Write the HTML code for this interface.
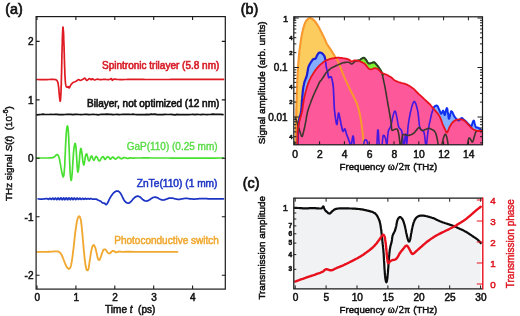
<!DOCTYPE html>
<html><head><meta charset="utf-8"><title>THz emitters</title>
<style>html,body{margin:0;padding:0;background:#fff;overflow:hidden}svg{display:block}text{font-family:'Liberation Sans',Arial,sans-serif}</style></head>
<body><svg width="520" height="316" viewBox="0 0 520 316">
<rect width="520" height="316" fill="#fff"/>
<g fill="none" stroke-linejoin="round" stroke-linecap="round">
<path d="M37.0,79.5 L38.3,79.5 L39.6,79.6 L40.9,79.6 L42.1,79.6 L43.4,79.6 L44.6,79.6 L45.9,79.6 L47.1,79.6 L48.4,79.5 L49.6,79.5 L50.8,79.4 L51.8,79.4 L52.8,79.4 L53.7,79.4 L54.5,79.5 L55.3,79.6 L55.9,79.7 L56.5,80.1 L57.0,80.6 L57.4,81.2 L57.7,82.0 L58.0,83.0 L58.2,84.1 L58.4,85.4 L58.6,86.7 L58.7,88.1 L58.9,89.6 L59.0,91.2 L59.1,92.8 L59.3,94.4 L59.4,95.9 L59.5,97.2 L59.7,98.4 L59.8,99.6 L60.0,100.5 L60.1,101.1 L60.2,101.2 L60.4,100.7 L60.5,99.8 L60.6,98.5 L60.7,97.1 L60.8,95.6 L60.9,94.0 L61.0,92.2 L61.1,90.3 L61.1,88.2 L61.2,86.1 L61.3,83.9 L61.3,81.7 L61.4,79.4 L61.4,77.1 L61.5,74.8 L61.6,72.5 L61.6,70.2 L61.7,67.8 L61.7,65.3 L61.8,62.8 L61.8,60.3 L61.9,57.8 L61.9,55.3 L62.0,52.7 L62.1,50.2 L62.1,47.8 L62.2,45.3 L62.3,42.8 L62.3,40.2 L62.4,37.6 L62.5,35.1 L62.6,32.8 L62.7,30.8 L62.8,29.1 L62.9,27.8 L62.9,27.1 L63.0,27.1 L63.1,27.6 L63.2,28.7 L63.3,30.3 L63.5,32.1 L63.6,34.2 L63.7,36.4 L63.7,38.7 L63.8,40.9 L63.9,43.1 L64.0,45.4 L64.1,47.7 L64.1,50.1 L64.2,52.4 L64.3,54.8 L64.3,57.2 L64.4,59.5 L64.5,61.8 L64.5,64.0 L64.6,66.1 L64.7,68.2 L64.8,70.2 L64.8,72.2 L64.9,74.1 L65.0,76.0 L65.1,77.8 L65.2,79.4 L65.3,80.9 L65.4,82.2 L65.5,83.4 L65.7,84.4 L65.9,85.4 L66.1,86.1 L66.3,86.7 L66.7,87.1 L67.1,87.3 L67.6,87.1 L68.0,86.7 L68.3,86.7 L68.6,87.3 L68.9,87.9 L69.2,87.9 L69.5,87.5 L69.9,86.8 L70.2,86.1 L70.6,85.4 L71.0,84.7 L71.4,84.1 L71.9,83.6 L72.4,83.0 L73.0,82.6 L73.6,82.2 L74.2,82.0 L74.9,81.8 L75.5,81.6 L76.0,81.3 L76.5,81.0 L77.0,80.6 L77.5,80.2 L78.0,79.8 L78.5,79.6 L79.1,79.8 L79.6,80.1 L80.2,80.4 L80.7,80.3 L81.3,80.1 L81.9,79.8 L82.4,79.6 L82.9,79.3 L83.4,79.0 L83.9,78.6 L84.4,78.2 L84.8,78.1 L85.2,78.4 L85.6,79.0 L85.9,79.5 L86.3,80.1 L86.6,80.5 L87.1,80.4 L87.5,80.1 L88.0,79.6 L88.5,79.2 L89.0,78.7 L89.5,78.5 L90.0,78.7 L90.4,79.3 L90.9,79.7 L91.4,79.6 L91.8,79.1 L92.3,78.8 L92.9,79.0 L93.5,79.4 L94.1,79.9 L94.8,80.0 L95.4,79.8 L96.1,79.5 L96.9,79.2 L97.6,79.2 L98.4,79.3 L99.1,79.5 L99.9,79.6 L100.8,79.6 L101.7,79.6 L102.6,79.5 L103.5,79.4 L104.4,79.4 L105.4,79.4 L106.3,79.5 L107.2,79.6 L108.0,79.6 L108.7,79.6 L109.4,79.5 L109.9,79.3 L110.5,79.0 L110.9,78.7 L111.4,78.6 L111.7,79.2 L112.0,79.9 L112.3,80.3 L112.7,80.1 L113.1,79.6 L113.7,79.3 L114.4,79.2 L115.3,79.2 L116.3,79.3 L117.5,79.5 L118.6,79.5 L119.9,79.6 L121.4,79.6 L122.9,79.6 L124.5,79.5 L126.2,79.5 L127.9,79.4 L129.7,79.4 L131.5,79.4 L133.3,79.4 L135.2,79.4 L137.1,79.4 L139.1,79.4 L141.2,79.4 L143.2,79.4 L145.4,79.5 L147.5,79.5 L149.7,79.5 L151.9,79.5 L154.2,79.5 L156.5,79.5 L158.9,79.5 L161.3,79.5 L163.7,79.5 L166.2,79.5 L168.7,79.5 L171.3,79.4 L173.9,79.4 L176.5,79.4 L179.1,79.4 L181.8,79.4 L184.6,79.4 L187.3,79.4 L190.1,79.4 L193.0,79.4 L195.9,79.3 L198.8,79.3 L201.7,79.3 L204.7,79.3 L207.8,79.3 L210.8,79.3 L214.0,79.3 L217.1,79.4 L220.3,79.4 L223.5,79.4" stroke="#e01a22" stroke-width="1.7"/>
<path d="M37.0,114.8 L39.0,114.6 L41.0,114.5 L43.0,114.2 L45.0,114.5 L47.0,114.5 L49.0,114.5 L51.0,114.4 L53.0,114.5 L55.0,114.4 L57.0,114.3 L59.0,114.6 L61.0,114.6 L63.0,114.7 L65.0,114.5 L67.0,114.4 L69.0,114.4 L71.0,114.3 L73.0,114.6 L75.0,114.3 L77.0,114.3 L79.0,114.5 L81.0,114.7 L83.0,114.5 L85.0,114.4 L87.0,114.4 L89.0,114.6 L91.0,114.5 L93.0,114.4 L95.0,114.5 L97.0,114.6 L99.0,114.8 L101.0,114.3 L103.0,114.4 L105.0,114.4 L107.0,114.2 L109.0,114.4 L111.0,114.4 L113.0,114.7 L115.0,114.5 L117.0,114.3 L119.0,114.6 L121.0,114.5 L123.0,114.3 L125.0,114.4 L127.0,114.4 L129.0,114.4 L131.0,114.5 L133.0,114.2 L135.0,114.5 L137.0,114.6 L139.0,114.6 L141.0,114.7 L143.0,114.7 L145.0,114.7 L147.0,114.3 L149.0,114.6 L151.0,114.2 L153.0,114.4 L155.0,114.2 L157.0,114.6 L159.0,114.7 L161.0,114.5 L163.0,114.7 L165.0,114.4 L167.0,114.5 L169.0,114.5 L171.0,114.4 L173.0,114.6 L175.0,114.8 L177.0,114.4 L179.0,114.6 L181.0,114.5 L183.0,114.7 L185.0,114.6 L187.0,114.6 L189.0,114.6 L191.0,114.5 L193.0,114.3 L195.0,114.7 L197.0,114.3 L199.0,114.5 L201.0,114.6 L203.0,114.4 L205.0,114.5 L207.0,114.7 L209.0,114.5 L211.0,114.4 L213.0,114.1 L215.0,114.4 L217.0,114.4 L219.0,114.4 L221.0,114.4 L223.0,114.6" stroke="#111" stroke-width="1.7"/>
<path d="M37.0,158.0 L38.5,158.0 L39.9,158.0 L41.2,158.0 L42.5,158.0 L43.6,158.0 L44.8,158.0 L45.8,158.0 L46.8,158.0 L47.6,158.0 L48.4,158.0 L49.2,157.9 L50.0,157.9 L50.8,157.9 L51.5,157.8 L52.2,157.7 L52.9,157.6 L53.5,157.4 L54.0,157.1 L54.5,156.7 L55.1,156.3 L55.6,155.7 L56.1,155.2 L56.6,154.7 L57.1,154.6 L57.6,154.8 L58.0,155.3 L58.4,155.9 L58.7,156.6 L59.0,157.4 L59.3,158.4 L59.5,159.5 L59.7,160.6 L60.0,161.8 L60.2,162.9 L60.4,164.1 L60.6,165.3 L60.8,166.6 L61.0,167.9 L61.3,169.2 L61.5,170.4 L61.7,171.7 L62.0,173.0 L62.3,174.3 L62.6,175.5 L62.9,176.4 L63.1,176.8 L63.3,176.8 L63.5,176.3 L63.8,175.4 L64.0,174.1 L64.1,172.7 L64.3,171.2 L64.4,169.6 L64.5,168.0 L64.7,166.3 L64.8,164.5 L64.8,162.6 L64.9,160.7 L65.0,158.8 L65.1,156.8 L65.2,154.8 L65.3,152.9 L65.4,151.0 L65.4,149.1 L65.5,147.2 L65.6,145.3 L65.7,143.5 L65.8,141.6 L65.9,139.8 L66.0,138.0 L66.1,136.3 L66.2,134.6 L66.3,133.1 L66.4,131.6 L66.6,130.1 L66.7,128.8 L66.9,127.5 L67.1,126.6 L67.3,126.0 L67.5,125.9 L67.6,126.3 L67.8,127.2 L68.0,128.3 L68.1,129.7 L68.3,131.2 L68.4,132.8 L68.5,134.4 L68.6,136.1 L68.7,137.8 L68.8,139.7 L68.8,141.6 L68.9,143.5 L69.0,145.5 L69.1,147.4 L69.2,149.4 L69.2,151.3 L69.3,153.2 L69.4,155.2 L69.5,157.1 L69.5,159.1 L69.6,161.0 L69.7,163.0 L69.8,164.9 L69.9,166.8 L69.9,168.6 L70.0,170.3 L70.1,172.0 L70.2,173.6 L70.4,175.2 L70.5,176.7 L70.7,178.1 L70.8,179.2 L71.0,180.0 L71.2,180.4 L71.3,180.2 L71.5,179.6 L71.6,178.6 L71.8,177.3 L71.9,175.9 L72.1,174.4 L72.2,173.0 L72.3,171.5 L72.4,170.0 L72.5,168.4 L72.6,166.8 L72.7,165.2 L72.8,163.6 L72.9,162.0 L73.0,160.4 L73.1,158.9 L73.2,157.4 L73.3,155.9 L73.4,154.4 L73.5,152.9 L73.6,151.5 L73.8,150.1 L73.9,148.8 L74.1,147.5 L74.3,146.3 L74.5,145.1 L74.7,144.2 L74.9,143.5 L75.1,143.3 L75.3,143.6 L75.5,144.3 L75.7,145.3 L75.8,146.5 L76.0,147.8 L76.1,149.1 L76.2,150.5 L76.3,152.0 L76.4,153.5 L76.5,155.1 L76.6,156.8 L76.7,158.4 L76.8,160.1 L76.9,161.7 L77.0,163.4 L77.1,165.2 L77.2,166.9 L77.4,168.6 L77.5,170.0 L77.6,171.1 L77.8,171.8 L77.9,172.0 L78.1,171.6 L78.3,170.9 L78.4,169.8 L78.6,168.5 L78.8,167.3 L78.9,166.0 L79.0,164.6 L79.1,163.2 L79.3,161.7 L79.4,160.2 L79.5,158.7 L79.6,157.2 L79.7,155.7 L79.9,154.3 L80.0,152.9 L80.2,151.5 L80.4,150.2 L80.6,149.2 L80.8,148.6 L80.9,148.4 L81.1,148.8 L81.3,149.6 L81.5,150.7 L81.7,151.9 L81.9,153.0 L82.1,154.2 L82.2,155.5 L82.3,156.7 L82.5,158.0 L82.6,159.2 L82.7,160.4 L82.9,161.5 L83.1,162.6 L83.3,163.6 L83.5,164.4 L83.7,164.9 L83.9,164.9 L84.1,164.5 L84.3,163.6 L84.4,162.5 L84.6,161.4 L84.8,160.4 L84.9,159.4 L85.1,158.3 L85.2,157.3 L85.4,156.4 L85.6,155.6 L85.8,154.9 L86.1,154.3 L86.4,153.9 L86.7,154.0 L87.0,154.5 L87.2,155.2 L87.4,155.9 L87.6,156.7 L87.8,157.6 L87.9,158.4 L88.1,159.2 L88.3,159.8 L88.6,160.4 L88.8,160.8 L89.1,160.9 L89.4,160.5 L89.7,159.9 L90.0,159.3 L90.2,158.6 L90.4,157.9 L90.6,157.3 L90.8,156.8 L91.1,156.3 L91.4,156.0 L91.7,156.1 L92.0,156.5 L92.3,157.0 L92.5,157.6 L92.7,158.2 L92.9,158.8 L93.2,159.4 L93.5,159.9 L93.8,160.2 L94.1,160.1 L94.4,159.7 L94.6,159.1 L94.9,158.6 L95.1,158.0 L95.3,157.5 L95.6,157.0 L95.9,156.6 L96.2,156.4 L96.5,156.5 L96.8,157.0 L97.2,157.5 L97.5,158.0 L97.8,158.7 L98.0,159.3 L98.3,159.9 L98.7,160.4 L99.1,160.8 L99.4,160.9 L99.8,160.7 L100.1,160.2 L100.5,159.6 L100.8,159.0 L101.2,158.4 L101.5,157.9 L101.9,157.4 L102.3,157.0 L102.7,156.8 L103.1,156.7 L103.5,157.0 L103.8,157.5 L104.1,158.0 L104.4,158.7 L104.7,159.3 L105.0,159.5 L105.4,159.3 L105.7,158.8 L106.2,158.2 L106.6,157.7 L107.0,157.2 L107.5,156.8 L107.9,156.7 L108.3,156.9 L108.7,157.2 L109.1,157.7 L109.5,158.3 L109.9,158.9 L110.2,159.2 L110.6,159.1 L111.0,158.7 L111.5,158.2 L111.9,157.7 L112.3,157.3 L112.7,157.0 L113.1,157.1 L113.5,157.4 L113.9,157.9 L114.4,158.4 L114.8,158.8 L115.2,159.0 L115.7,159.1 L116.1,158.8 L116.6,158.4 L117.0,158.0 L117.5,157.6 L118.0,157.3 L118.5,157.2 L119.0,157.3 L119.4,157.6 L119.9,157.9 L120.4,158.3 L120.9,158.6 L121.4,158.8 L121.8,158.7 L122.3,158.5 L122.8,158.1 L123.3,157.9 L123.8,157.6 L124.3,157.5 L124.8,157.5 L125.3,157.7 L125.7,157.9 L126.3,158.1 L126.9,158.3 L127.5,158.4 L128.1,158.4 L128.6,158.3 L129.2,158.1 L129.8,157.9 L130.4,157.9 L131.1,157.9 L131.8,158.0 L132.6,158.1 L133.4,158.1 L134.1,158.1 L134.8,158.1 L135.7,158.0 L136.6,158.0 L137.8,158.0 L139.2,158.0 L140.7,158.0 L142.5,157.9 L144.4,157.9 L146.4,157.9 L148.5,157.9 L150.8,158.0 L153.1,158.0 L155.5,158.0 L157.9,158.0 L160.4,158.0 L162.9,158.0 L165.5,158.0 L168.2,158.0 L170.9,158.1 L173.8,158.1 L176.8,158.1 L179.9,158.1 L183.0,158.1 L186.3,158.1 L189.6,158.1 L193.0,158.1 L196.5,158.1 L200.1,158.1 L203.8,158.1 L207.6,158.1 L211.4,158.1 L215.4,158.1 L219.4,158.0 L223.5,158.0" stroke="#48e030" stroke-width="1.7"/>
<path d="M38.2,198.9 L39.1,199.0 L39.9,199.1 L40.7,199.1 L41.5,199.1 L42.3,199.0 L43.1,199.0 L43.8,198.9 L44.5,198.9 L45.1,198.8 L45.8,198.7 L46.4,198.7 L47.0,198.7 L47.5,198.8 L47.9,199.0 L48.2,199.2 L48.5,199.3 L48.8,199.2 L49.1,198.9 L49.5,198.5 L49.8,198.3 L50.2,198.3 L50.5,198.7 L50.8,199.1 L51.2,199.4 L51.5,199.3 L51.8,199.0 L52.2,198.5 L52.5,198.2 L52.8,198.2 L53.2,198.5 L53.5,199.0 L53.8,199.4 L54.1,199.5 L54.4,199.2 L54.8,198.7 L55.1,198.3 L55.4,198.1 L55.7,198.3 L56.0,198.7 L56.3,199.2 L56.7,199.6 L57.0,199.5 L57.3,199.1 L57.6,198.5 L57.9,198.1 L58.2,198.0 L58.5,198.3 L58.8,198.8 L59.1,199.4 L59.4,199.6 L59.7,199.5 L60.0,199.1 L60.3,198.5 L60.6,198.0 L60.9,197.9 L61.2,198.2 L61.5,198.8 L61.8,199.3 L62.1,199.7 L62.4,199.6 L62.7,199.2 L63.0,198.6 L63.3,198.1 L63.6,197.9 L63.9,198.1 L64.2,198.6 L64.4,199.2 L64.7,199.7 L65.0,199.7 L65.3,199.3 L65.6,198.8 L65.9,198.2 L66.2,197.9 L66.5,198.0 L66.8,198.4 L67.1,199.0 L67.4,199.6 L67.7,199.7 L68.0,199.5 L68.2,199.0 L68.5,198.4 L68.8,197.9 L69.1,197.9 L69.4,198.3 L69.7,198.9 L70.0,199.4 L70.3,199.7 L70.6,199.6 L70.9,199.1 L71.2,198.5 L71.5,198.0 L71.8,197.9 L72.1,198.3 L72.4,198.8 L72.7,199.3 L73.0,199.6 L73.3,199.5 L73.6,199.1 L73.9,198.5 L74.2,198.1 L74.5,198.0 L74.8,198.3 L75.2,198.8 L75.5,199.3 L75.8,199.6 L76.1,199.4 L76.4,198.9 L76.7,198.5 L77.0,198.1 L77.4,198.2 L77.7,198.5 L78.0,199.0 L78.3,199.4 L78.6,199.4 L79.0,199.1 L79.3,198.7 L79.6,198.3 L80.0,198.2 L80.3,198.4 L80.6,198.8 L80.9,199.2 L81.3,199.4 L81.6,199.2 L82.0,198.8 L82.3,198.4 L82.6,198.3 L83.0,198.5 L83.3,198.8 L83.7,199.2 L84.0,199.3 L84.4,199.1 L84.7,198.8 L85.1,198.5 L85.4,198.4 L85.8,198.6 L86.1,198.9 L86.5,199.1 L86.8,199.2 L87.2,199.0 L87.5,198.7 L87.9,198.5 L88.3,198.5 L88.6,198.7 L89.0,199.0 L89.3,199.1 L89.7,199.1 L90.1,198.8 L90.4,198.6 L90.8,198.5 L91.1,198.6 L91.5,198.8 L91.9,199.0 L92.3,199.1 L92.8,199.1 L93.3,199.1 L93.9,199.0 L94.5,199.0 L95.1,199.0 L95.7,199.1 L96.2,199.2 L96.8,199.4 L97.3,199.7 L97.9,199.9 L98.4,200.2 L99.0,200.5 L99.5,200.7 L100.1,201.0 L100.6,201.3 L101.1,201.6 L101.5,202.0 L101.9,202.4 L102.3,202.7 L102.7,202.9 L103.2,203.0 L103.6,203.1 L104.0,203.1 L104.4,203.2 L104.7,203.3 L105.1,203.7 L105.4,204.2 L105.8,204.5 L106.1,204.6 L106.4,204.5 L106.8,204.1 L107.1,203.7 L107.4,203.1 L107.8,202.6 L108.1,201.9 L108.4,201.3 L108.8,200.5 L109.1,199.8 L109.4,199.1 L109.8,198.3 L110.2,197.6 L110.7,196.9 L111.1,196.1 L111.6,195.4 L112.1,194.7 L112.6,194.1 L113.0,193.5 L113.5,193.0 L114.0,192.6 L114.5,192.2 L115.0,191.8 L115.4,191.6 L115.9,191.3 L116.3,191.2 L116.7,191.1 L117.1,191.0 L117.5,191.0 L117.9,191.1 L118.3,191.2 L118.7,191.5 L119.2,191.8 L119.5,192.1 L119.9,192.5 L120.3,193.0 L120.7,193.6 L121.0,194.2 L121.4,194.8 L121.7,195.4 L122.1,196.1 L122.4,196.9 L122.8,197.6 L123.1,198.3 L123.4,199.0 L123.8,199.7 L124.2,200.3 L124.6,200.9 L125.0,201.4 L125.5,201.9 L125.9,202.3 L126.3,202.6 L126.8,202.8 L127.2,203.0 L127.7,203.1 L128.2,203.1 L128.6,203.1 L129.1,203.0 L129.5,202.7 L129.9,202.4 L130.4,202.1 L130.8,201.7 L131.2,201.3 L131.6,200.8 L132.1,200.3 L132.5,199.8 L132.9,199.3 L133.3,198.8 L133.8,198.4 L134.2,197.9 L134.7,197.5 L135.1,197.1 L135.6,196.9 L136.1,196.6 L136.5,196.4 L137.0,196.3 L137.5,196.2 L138.0,196.2 L138.5,196.3 L139.0,196.5 L139.4,196.7 L139.9,196.9 L140.4,197.2 L140.8,197.6 L141.2,198.1 L141.7,198.5 L142.1,199.0 L142.6,199.4 L143.1,199.7 L143.5,200.1 L144.0,200.4 L144.5,200.6 L145.0,200.8 L145.4,200.9 L145.9,201.0 L146.3,201.0 L146.7,201.0 L147.2,200.9 L147.7,200.8 L148.1,200.6 L148.6,200.4 L149.1,200.1 L149.6,199.8 L150.1,199.4 L150.6,199.0 L151.1,198.6 L151.7,198.3 L152.2,198.0 L152.7,197.7 L153.3,197.5 L153.8,197.4 L154.3,197.2 L154.9,197.2 L155.4,197.2 L155.9,197.3 L156.5,197.4 L157.0,197.6 L157.5,197.8 L158.1,198.1 L158.6,198.4 L159.1,198.7 L159.7,199.0 L160.2,199.3 L160.7,199.5 L161.2,199.7 L161.7,199.8 L162.3,199.9 L162.8,200.0 L163.3,200.0 L163.9,199.9 L164.4,199.8 L165.0,199.6 L165.6,199.4 L166.1,199.3 L166.7,199.0 L167.2,198.8 L167.8,198.6 L168.3,198.4 L168.9,198.2 L169.4,198.1 L169.9,198.1 L170.4,198.0 L170.9,198.0 L171.5,198.0 L172.0,198.1 L172.6,198.2 L173.2,198.3 L173.9,198.5 L174.5,198.7 L175.1,198.8 L175.7,199.0 L176.3,199.1 L176.9,199.2 L177.5,199.3 L178.2,199.4 L178.8,199.4 L179.4,199.4 L180.0,199.3 L180.6,199.2 L181.2,199.0 L181.8,198.9 L182.4,198.8 L183.1,198.7 L183.7,198.6 L184.4,198.5 L185.1,198.4 L185.7,198.4 L186.4,198.4 L187.0,198.4 L187.7,198.5 L188.3,198.6 L189.0,198.7 L189.6,198.8 L190.3,198.8 L191.0,198.9 L191.8,198.9 L192.5,199.0 L193.3,199.0 L194.0,199.0 L194.7,199.0 L195.5,199.0 L196.2,198.9 L196.9,198.9 L197.6,198.8 L198.3,198.8 L199.1,198.7 L199.9,198.7 L200.7,198.7 L201.7,198.7 L202.6,198.7 L203.6,198.7 L204.7,198.7 L205.8,198.7 L206.9,198.7 L208.0,198.8 L209.1,198.8 L210.2,198.8 L211.3,198.8 L212.5,198.8 L213.6,198.8 L214.8,198.9 L216.0,198.9 L217.2,198.9 L218.4,198.9 L219.7,198.9 L220.9,198.8 L222.2,198.8 L223.5,198.8" stroke="#1c34c4" stroke-width="1.75"/>
<path d="M37.0,251.9 L38.3,251.9 L39.6,251.9 L40.8,251.8 L42.1,251.8 L43.3,251.8 L44.5,251.8 L45.7,251.8 L47.0,251.8 L48.2,251.7 L49.4,251.7 L50.6,251.7 L51.6,251.6 L52.5,251.6 L53.3,251.5 L54.0,251.4 L54.7,251.3 L55.5,251.3 L56.3,251.3 L57.1,251.4 L57.8,251.5 L58.5,251.7 L59.2,252.0 L59.8,252.5 L60.4,253.1 L60.9,253.7 L61.4,254.5 L61.9,255.5 L62.3,256.5 L62.8,257.5 L63.2,258.5 L63.6,259.6 L64.1,260.8 L64.5,261.9 L64.9,263.0 L65.3,264.0 L65.7,265.0 L66.2,265.9 L66.6,266.7 L67.0,267.4 L67.5,268.0 L68.0,268.4 L68.4,268.8 L68.9,268.9 L69.4,268.7 L69.8,268.2 L70.3,267.6 L70.6,266.8 L70.9,265.8 L71.2,264.7 L71.4,263.4 L71.7,262.1 L71.9,260.6 L72.1,259.1 L72.4,257.6 L72.6,255.9 L72.8,254.2 L73.0,252.4 L73.2,250.6 L73.5,248.7 L73.7,246.8 L73.9,245.0 L74.1,243.1 L74.3,241.3 L74.5,239.4 L74.7,237.5 L74.9,235.6 L75.1,233.7 L75.3,231.9 L75.6,230.1 L75.8,228.4 L76.0,226.9 L76.3,225.3 L76.5,223.8 L76.7,222.4 L77.0,221.1 L77.3,219.9 L77.6,218.8 L77.9,217.9 L78.3,217.1 L78.7,216.5 L79.1,216.2 L79.5,216.3 L79.9,216.9 L80.2,217.7 L80.5,218.7 L80.8,219.8 L81.0,221.1 L81.2,222.5 L81.4,224.1 L81.6,225.8 L81.8,227.5 L81.9,229.3 L82.1,231.2 L82.3,233.0 L82.5,234.9 L82.7,236.9 L82.8,238.9 L83.0,240.9 L83.2,242.9 L83.4,245.0 L83.5,247.0 L83.7,248.9 L83.9,250.9 L84.1,252.7 L84.3,254.5 L84.4,256.3 L84.6,258.0 L84.8,259.7 L85.0,261.3 L85.2,262.8 L85.4,264.2 L85.6,265.5 L85.8,266.8 L86.1,268.0 L86.3,269.0 L86.6,269.8 L86.9,270.2 L87.4,270.3 L87.9,270.1 L88.2,269.7 L88.5,268.9 L88.7,267.8 L88.9,266.5 L89.1,265.1 L89.3,263.6 L89.5,262.2 L89.7,260.8 L90.0,259.3 L90.2,257.8 L90.4,256.4 L90.6,254.9 L90.8,253.6 L91.0,252.3 L91.3,251.0 L91.5,249.8 L91.8,248.6 L92.0,247.6 L92.3,246.7 L92.7,246.0 L93.1,245.4 L93.5,245.1 L93.9,245.0 L94.3,245.5 L94.7,246.2 L95.0,247.1 L95.4,248.0 L95.7,249.0 L95.9,250.1 L96.2,251.3 L96.5,252.5 L96.7,253.6 L97.0,254.8 L97.2,255.9 L97.5,257.1 L97.7,258.1 L98.0,258.9 L98.3,259.5 L98.8,259.9 L99.2,260.0 L99.6,259.8 L99.9,259.2 L100.3,258.4 L100.6,257.5 L100.9,256.6 L101.2,255.6 L101.6,254.6 L101.9,253.6 L102.2,252.7 L102.6,251.8 L102.9,251.0 L103.3,250.2 L103.7,249.7 L104.1,249.4 L104.6,249.3 L105.1,249.3 L105.5,249.6 L106.0,250.1 L106.4,250.7 L106.9,251.4 L107.3,252.1 L107.8,252.7 L108.3,253.2 L108.8,253.4 L109.3,253.4 L109.9,253.4 L110.4,253.1 L110.8,252.5 L111.3,252.0 L111.8,251.5 L112.3,251.1 L112.8,250.8 L113.3,250.8 L113.8,251.0 L114.4,251.3 L114.9,251.7 L115.4,252.1 L115.8,252.4 L116.4,252.4 L116.9,252.2 L117.4,252.0 L118.0,251.8 L118.6,251.6 L119.2,251.5 L119.9,251.5 L120.6,251.7 L121.3,251.8 L122.0,251.9 L122.8,251.9 L123.6,251.9 L124.5,251.8 L125.5,251.7 L126.5,251.7 L127.7,251.7 L128.9,251.7 L130.2,251.7 L131.6,251.7 L133.0,251.8 L134.5,251.8 L136.0,251.8 L137.5,251.8 L139.1,251.8 L140.8,251.8 L142.5,251.8 L144.2,251.8 L146.0,251.8 L147.9,251.8 L149.8,251.8 L151.8,251.8 L153.8,251.8 L155.9,251.8 L158.1,251.8 L160.3,251.8 L162.6,251.8 L164.9,251.8 L167.3,251.8 L169.8,251.8 L172.3,251.8 L174.9,251.8 L177.5,251.8" stroke="#f0a830" stroke-width="1.85"/>
</g>
<rect x="36.1" y="16.6" width="189.20000000000002" height="272.5" fill="none" stroke="#1a1a1a" stroke-width="1.2"/>
<path d="M37.0,289.1L37.0,285.6 M37.0,16.6L37.0,20.1 M75.9,289.1L75.9,285.6 M75.9,16.6L75.9,20.1 M114.8,289.1L114.8,285.6 M114.8,16.6L114.8,20.1 M153.7,289.1L153.7,285.6 M153.7,16.6L153.7,20.1 M192.6,289.1L192.6,285.6 M192.6,16.6L192.6,20.1 M36.1,41.4L39.6,41.4 M225.3,41.4L221.8,41.4 M36.1,99.9L39.6,99.9 M225.3,99.9L221.8,99.9 M36.1,158.3L39.6,158.3 M225.3,158.3L221.8,158.3 M36.1,216.8L39.6,216.8 M225.3,216.8L221.8,216.8 M36.1,275.2L39.6,275.2 M225.3,275.2L221.8,275.2" stroke="#1a1a1a" stroke-width="1.1" fill="none"/>
<text x="37.3" y="301.1" font-size="10.0" text-anchor="middle" fill="#111" stroke="#111" stroke-width="0.5" font-weight="normal" >0</text>
<text x="76.2" y="301.1" font-size="10.0" text-anchor="middle" fill="#111" stroke="#111" stroke-width="0.5" font-weight="normal" >1</text>
<text x="115.1" y="301.1" font-size="10.0" text-anchor="middle" fill="#111" stroke="#111" stroke-width="0.5" font-weight="normal" >2</text>
<text x="154.0" y="301.1" font-size="10.0" text-anchor="middle" fill="#111" stroke="#111" stroke-width="0.5" font-weight="normal" >3</text>
<text x="192.9" y="301.1" font-size="10.0" text-anchor="middle" fill="#111" stroke="#111" stroke-width="0.5" font-weight="normal" >4</text>
<text x="33.5" y="45.300000000000004" font-size="10.0" text-anchor="end" fill="#111" stroke="#111" stroke-width="0.5" font-weight="normal" >2</text>
<text x="33.5" y="103.75000000000001" font-size="10.0" text-anchor="end" fill="#111" stroke="#111" stroke-width="0.5" font-weight="normal" >1</text>
<text x="33.5" y="162.20000000000002" font-size="10.0" text-anchor="end" fill="#111" stroke="#111" stroke-width="0.5" font-weight="normal" >0</text>
<text x="33.5" y="220.65" font-size="10.0" text-anchor="end" fill="#111" stroke="#111" stroke-width="0.5" font-weight="normal" >-1</text>
<text x="33.5" y="279.1" font-size="10.0" text-anchor="end" fill="#111" stroke="#111" stroke-width="0.5" font-weight="normal" >-2</text>
<text x="105.1" y="313.3" font-size="10" text-anchor="start" fill="#111" stroke="#111" stroke-width="0.5" font-weight="normal" xml:space="preserve">Time <tspan font-style="italic">t</tspan>  (ps)</text>
<text xml:space="preserve" transform="translate(11.7,201) rotate(-90)" font-size="9.9" fill="#111" stroke="#111" stroke-width="0.45">THz signal <tspan font-style="italic">S</tspan>(<tspan font-style="italic">t</tspan>)  (10<tspan font-size="7.3" dy="-3.6">-6</tspan><tspan dy="3.6">)</tspan></text>
<text x="5.3" y="14.3" font-size="14.3" text-anchor="start" fill="#111" stroke="#111" stroke-width="0.7" font-weight="normal" >(a)</text>
<text x="240.8" y="14.3" font-size="14.3" text-anchor="start" fill="#111" stroke="#111" stroke-width="0.7" font-weight="normal" >(b)</text>
<text x="242.8" y="187.8" font-size="14.3" text-anchor="start" fill="#111" stroke="#111" stroke-width="0.7" font-weight="normal" >(c)</text>
<text x="219.3" y="68.5" font-size="10" text-anchor="end" fill="#d81e28" stroke="#d81e28" stroke-width="0.6" font-weight="normal" >Spintronic trilayer (5.8 nm)</text>
<text x="219.3" y="107" font-size="10" text-anchor="end" fill="#111" stroke="#111" stroke-width="0.6" font-weight="normal" >Bilayer, not optimized (12 nm)</text>
<text x="217.6" y="149.6" font-size="10" text-anchor="end" fill="#56dc42" stroke="#56dc42" stroke-width="0.35" font-weight="normal" >GaP(110) (0.25 mm)</text>
<text x="217.5" y="187" font-size="10.2" text-anchor="end" fill="#1c34c4" stroke="#1c34c4" stroke-width="0.5" font-weight="normal" >ZnTe(110) (1 mm)</text>
<text x="218.8" y="243.5" font-size="10" text-anchor="end" fill="#f0a830" stroke="#f0a830" stroke-width="0.5" font-weight="normal" >Photoconductive switch</text>
<clipPath id="cb"><rect x="293.8" y="16.8" width="188.7" height="128.0"/></clipPath>
<g clip-path="url(#cb)" stroke-linejoin="round" stroke-linecap="round">
<path d="M295.6,148.0 L295.6,145.4 L295.7,142.7 L295.7,140.0 L295.8,137.3 L295.8,134.6 L295.9,131.9 L295.9,129.1 L296.0,126.4 L296.0,123.6 L296.1,120.8 L296.1,118.0 L296.2,115.2 L296.3,112.3 L296.3,109.5 L296.4,106.7 L296.5,103.8 L296.6,101.0 L296.7,98.2 L296.7,95.3 L296.8,92.4 L297.0,89.6 L297.1,86.7 L297.2,83.9 L297.3,81.1 L297.4,78.3 L297.6,75.6 L297.7,72.9 L297.9,70.2 L298.0,67.5 L298.2,64.9 L298.4,62.3 L298.6,59.9 L298.8,57.5 L299.0,55.3 L299.2,53.2 L299.4,51.2 L299.6,49.4 L299.9,47.6 L300.1,45.8 L300.4,44.1 L300.6,42.3 L300.9,40.6 L301.1,38.9 L301.4,37.2 L301.7,35.6 L302.0,34.0 L302.3,32.4 L302.7,30.9 L303.0,29.4 L303.4,28.0 L303.8,26.6 L304.2,25.3 L304.6,24.1 L305.1,22.9 L305.6,21.8 L306.2,20.8 L306.9,19.9 L307.6,19.2 L308.4,18.6 L309.3,18.2 L310.2,18.1 L311.1,18.3 L312.0,18.8 L312.9,19.4 L313.7,20.1 L314.6,21.0 L315.4,22.0 L316.2,23.0 L316.9,24.1 L317.7,25.3 L318.4,26.4 L319.0,27.6 L319.6,28.6 L320.1,29.7 L320.6,30.7 L321.2,31.9 L321.8,33.1 L322.5,34.4 L323.2,35.7 L323.8,37.1 L324.5,38.5 L325.1,39.9 L325.7,41.3 L326.3,42.6 L327.0,44.0 L327.8,45.3 L328.6,46.5 L329.5,47.8 L330.4,49.0 L331.2,50.3 L332.0,51.5 L332.7,52.8 L333.5,54.0 L334.2,55.2 L334.9,56.3 L335.7,57.4 L336.4,58.4 L337.1,59.6 L337.7,60.8 L338.3,62.1 L338.9,63.4 L339.5,64.8 L340.0,66.1 L340.5,67.4 L341.0,68.7 L341.4,70.0 L341.9,71.2 L342.4,72.6 L343.0,73.9 L343.5,75.2 L344.1,76.6 L344.7,77.9 L345.2,79.1 L345.8,80.4 L346.4,81.6 L347.0,82.9 L347.6,84.2 L348.2,85.6 L348.9,87.0 L349.5,88.4 L350.1,89.8 L350.8,91.1 L351.5,92.5 L352.3,93.8 L353.0,95.2 L353.7,96.5 L354.3,97.9 L355.0,99.2 L355.6,100.6 L356.2,102.0 L356.8,103.4 L357.2,104.7 L357.7,106.1 L358.1,107.6 L358.5,109.0 L358.9,110.5 L359.3,112.0 L359.6,113.6 L360.0,115.2 L360.3,116.9 L360.6,118.7 L360.9,120.6 L361.3,122.6 L361.6,124.7 L361.9,126.8 L362.2,129.0 L362.4,131.2 L362.7,133.5 L363.0,135.8 L363.2,138.1 L363.4,140.6 L363.7,143.0 L363.9,145.5 L364.1,148.0 L364.1,150 L295.6,150 Z" fill="#fdcc5e" stroke="none"/>
<path d="M297.6,148.0 L297.6,146.1 L297.7,144.4 L297.7,142.6 L297.7,140.9 L297.8,139.3 L297.8,137.7 L297.9,136.2 L297.9,134.7 L297.9,133.3 L298.0,131.9 L298.0,130.5 L298.1,129.1 L298.1,127.8 L298.2,126.4 L298.3,125.1 L298.4,123.7 L298.6,122.4 L298.9,121.1 L299.1,119.8 L299.4,118.6 L299.6,117.4 L299.9,116.3 L300.2,115.2 L300.5,114.2 L300.8,113.0 L301.0,111.8 L301.2,110.4 L301.3,108.9 L301.5,107.4 L301.6,105.7 L301.7,104.0 L301.8,102.3 L301.9,100.6 L302.1,98.9 L302.2,97.2 L302.4,95.5 L302.6,93.8 L302.7,92.1 L302.9,90.5 L303.1,89.0 L303.3,87.5 L303.5,86.2 L303.8,85.0 L304.0,83.8 L304.3,82.7 L304.6,81.6 L304.9,80.6 L305.3,79.7 L305.7,78.7 L306.1,77.8 L306.5,76.7 L306.8,75.5 L307.1,74.2 L307.4,72.8 L307.6,71.3 L307.9,69.8 L308.1,68.4 L308.4,67.2 L308.8,66.2 L309.2,65.3 L309.6,64.5 L310.1,63.7 L310.6,62.8 L311.2,61.8 L311.9,60.8 L312.5,59.9 L313.2,59.2 L313.8,58.9 L314.5,58.9 L315.1,58.9 L315.5,58.6 L316.0,58.0 L316.3,57.1 L316.7,56.1 L317.2,55.2 L317.7,54.3 L318.3,53.5 L318.9,52.8 L319.5,52.6 L320.2,52.6 L320.8,52.7 L321.5,53.0 L322.1,53.4 L322.7,53.9 L323.2,54.5 L323.7,55.0 L324.1,55.6 L324.4,56.2 L324.7,56.9 L324.9,57.7 L325.1,58.6 L325.3,59.6 L325.4,60.7 L325.6,61.8 L325.8,62.9 L325.9,64.1 L326.0,65.2 L326.2,66.3 L326.4,67.4 L326.6,68.4 L326.9,69.4 L327.2,70.3 L327.4,71.2 L327.6,72.2 L327.8,73.1 L327.9,74.0 L328.1,74.9 L328.3,75.8 L328.4,76.7 L328.6,77.5 L328.8,77.8 L329.1,77.6 L329.6,77.2 L330.1,76.9 L330.6,76.8 L331.1,76.8 L331.4,77.3 L331.7,78.1 L331.9,79.0 L332.1,79.9 L332.3,80.8 L332.5,81.6 L332.6,82.5 L332.8,83.3 L332.9,84.2 L333.0,85.0 L333.2,86.0 L333.3,87.2 L333.4,88.7 L333.5,90.5 L333.6,92.5 L333.7,94.7 L333.8,97.0 L333.9,99.3 L334.0,101.7 L334.1,104.0 L334.2,106.1 L334.3,108.0 L334.4,109.7 L334.6,111.2 L334.8,112.7 L334.9,114.1 L335.1,115.4 L335.3,116.8 L335.5,118.2 L335.7,119.7 L336.0,121.2 L336.2,122.7 L336.5,123.8 L336.7,124.4 L336.9,124.4 L337.1,123.7 L337.3,122.5 L337.4,121.1 L337.6,119.5 L337.8,118.0 L338.0,116.6 L338.2,115.2 L338.3,114.0 L338.5,113.2 L338.7,113.0 L338.9,113.5 L339.2,114.4 L339.4,115.7 L339.7,117.2 L340.0,118.6 L340.2,119.8 L340.5,121.1 L340.7,122.3 L340.9,123.5 L341.2,124.7 L341.5,126.0 L341.8,127.3 L342.1,128.8 L342.4,130.0 L342.8,131.0 L343.1,131.4 L343.5,131.1 L343.9,130.2 L344.3,129.3 L344.7,128.9 L345.1,129.2 L345.4,130.1 L345.8,131.3 L346.1,132.7 L346.5,134.1 L347.0,135.4 L347.5,136.7 L348.0,138.0 L348.5,139.3 L349.0,140.5 L349.4,141.7 L349.8,142.9 L350.1,144.1 L350.3,145.2 L350.6,145.8 L350.9,146.0 L351.1,145.4 L351.4,144.4 L351.6,143.1 L351.9,141.8 L352.1,140.5 L352.3,139.2 L352.5,137.9 L352.7,136.8 L352.9,136.2 L353.1,136.0 L353.3,136.2 L353.4,136.9 L353.6,138.0 L353.8,139.7 L353.9,141.9 L354.1,144.6 L354.2,148.0 L354.2,150.0 L363.5,150.0 L363.5,147.0 L363.6,145.5 L363.7,144.2 L363.9,143.1 L364.1,142.1 L364.3,141.2 L364.5,140.6 L364.8,140.2 L365.1,140.0 L365.4,139.9 L365.9,139.9 L366.3,140.0 L366.5,140.2 L366.8,140.6 L367.1,141.3 L367.3,142.1 L367.5,143.1 L367.7,144.2 L367.9,145.5 L368.0,147.0 L368.0,150.0 L376.9,150.0 L376.9,147.0 L377.1,141.1 L377.3,136.5 L377.5,133.2 L377.6,131.1 L377.8,130.0 L378.0,129.9 L378.2,130.5 L378.4,132.3 L378.6,134.9 L378.7,137.9 L378.9,141.0 L379.1,143.7 L379.4,145.5 L379.9,146.2 L380.9,146.3 L381.7,145.9 L382.1,144.5 L382.4,142.1 L382.6,139.5 L382.9,137.0 L383.2,135.5 L383.7,135.2 L384.4,135.9 L385.1,137.3 L385.6,138.8 L385.9,140.8 L386.3,142.7 L386.5,144.1 L386.8,144.5 L387.1,143.6 L387.3,141.6 L387.5,139.0 L387.7,136.2 L388.0,133.5 L388.3,131.3 L388.8,129.8 L389.4,128.7 L390.1,127.6 L390.7,126.3 L391.1,124.7 L391.6,122.8 L392.0,120.8 L392.4,118.7 L392.8,116.7 L393.3,114.9 L393.8,113.1 L394.3,111.8 L394.9,111.0 L395.3,111.3 L395.8,112.5 L396.2,114.2 L396.7,116.3 L397.1,118.3 L397.4,120.4 L397.7,122.4 L398.1,124.4 L398.4,126.1 L398.9,127.4 L399.6,128.4 L400.5,129.2 L401.4,130.3 L401.9,131.8 L402.3,134.2 L402.6,137.2 L402.9,140.3 L403.1,143.1 L403.4,145.2 L403.6,146.0 L404.0,145.2 L404.3,143.1 L404.7,140.2 L405.0,137.3 L405.3,135.0 L405.6,134.0 L405.8,134.8 L406.0,136.9 L406.2,139.5 L406.4,142.1 L406.5,143.7 L406.7,143.9 L406.9,142.8 L407.1,140.7 L407.3,137.8 L407.5,134.6 L407.7,131.2 L407.9,128.1 L408.2,125.3 L408.6,122.6 L409.0,120.0 L409.4,117.5 L409.9,115.1 L410.3,112.8 L410.9,110.6 L411.4,108.4 L412.0,106.1 L412.7,104.0 L413.4,102.4 L414.1,101.5 L414.7,101.6 L415.3,102.6 L415.9,104.1 L416.4,105.7 L416.8,107.3 L417.2,108.8 L417.6,110.4 L417.9,112.1 L418.2,114.1 L418.5,116.3 L418.7,118.8 L419.0,121.3 L419.2,123.8 L419.5,126.1 L419.9,127.9 L420.5,129.1 L421.6,130.0 L422.8,130.8 L423.8,131.9 L424.3,133.6 L424.7,136.1 L425.0,138.9 L425.3,141.8 L425.6,144.2 L425.8,145.7 L426.1,145.9 L426.4,145.0 L426.7,143.1 L427.0,140.6 L427.3,137.7 L427.6,134.8 L427.9,132.1 L428.3,129.5 L428.8,127.0 L429.2,124.6 L429.7,122.3 L430.2,120.2 L430.6,118.3 L431.0,116.5 L431.4,115.0 L431.7,113.5 L432.1,112.2 L432.5,110.9 L432.9,109.7 L433.3,108.6 L433.8,107.5 L433.8,107.5 L434.1,107.1 L434.4,106.8 L434.7,106.4 L435.0,106.2 L435.4,105.9 L435.8,105.8 L436.2,105.6 L436.6,105.6 L436.9,105.6 L437.3,105.8 L437.5,106.1 L437.8,106.6 L438.1,107.1 L438.4,107.8 L438.7,108.5 L439.1,109.3 L439.4,110.2 L439.8,111.1 L440.1,112.0 L440.5,112.8 L440.8,113.4 L441.1,113.7 L441.4,113.7 L441.6,113.5 L441.8,113.0 L442.0,112.5 L442.2,112.0 L442.4,111.5 L442.6,111.1 L442.9,110.8 L443.1,110.6 L443.3,110.7 L443.4,111.1 L443.6,111.6 L443.8,112.2 L443.9,112.8 L444.1,113.4 L444.3,113.9 L444.4,114.5 L444.6,114.8 L444.7,115.0 L444.9,114.9 L445.1,114.4 L445.2,113.8 L445.4,113.1 L445.5,112.3 L445.7,111.5 L445.9,110.7 L446.1,110.0 L446.3,109.3 L446.5,108.7 L446.7,108.3 L446.8,108.1 L447.0,108.2 L447.2,108.5 L447.3,109.1 L447.5,109.9 L447.6,110.8 L447.7,111.7 L447.9,112.7 L448.0,113.6 L448.2,114.5 L448.3,115.5 L448.4,116.4 L448.5,117.3 L448.7,118.0 L448.8,118.5 L448.9,118.7 L449.1,118.7 L449.3,118.4 L449.4,117.8 L449.6,117.1 L449.8,116.3 L450.0,115.5 L450.2,114.8 L450.3,114.0 L450.5,113.2 L450.7,112.5 L450.8,111.9 L451.0,111.5 L451.2,111.3 L451.5,111.3 L451.8,111.5 L452.0,111.8 L452.3,112.1 L452.5,112.5 L452.7,112.8 L452.9,113.2 L453.1,113.7 L453.3,114.1 L453.5,114.6 L453.7,115.2 L454.0,115.7 L454.2,116.2 L454.5,116.6 L454.7,117.0 L455.0,117.3 L455.2,117.6 L455.5,117.9 L455.8,118.2 L456.1,118.6 L456.4,118.9 L456.7,119.2 L457.0,119.5 L457.4,119.9 L457.8,120.2 L458.2,120.4 L458.6,120.6 L458.9,120.6 L459.2,120.3 L459.6,120.0 L459.9,119.5 L460.2,119.1 L460.5,118.8 L460.9,118.4 L461.3,118.2 L461.6,118.0 L462.0,118.0 L462.3,118.2 L462.7,118.5 L463.0,118.9 L463.3,119.3 L463.7,119.6 L464.0,119.9 L464.3,120.1 L464.7,120.4 L465.0,120.6 L465.4,120.9 L465.8,121.3 L466.1,121.6 L466.5,122.0 L466.9,122.4 L467.3,122.8 L467.6,123.2 L467.9,123.5 L468.3,123.9 L468.6,124.3 L468.9,124.6 L469.2,124.8 L469.5,125.1 L469.8,125.3 L470.1,125.6 L470.5,125.9 L470.8,126.1 L471.1,126.2 L471.4,126.2 L471.6,125.9 L471.8,125.4 L472.0,124.7 L472.2,124.0 L472.4,123.3 L472.6,122.7 L472.8,122.1 L473.1,121.5 L473.3,121.0 L473.6,120.7 L473.8,120.6 L474.0,120.8 L474.2,121.3 L474.4,122.0 L474.5,122.7 L474.7,123.5 L474.9,124.2 L475.1,124.9 L475.3,125.6 L475.5,126.2 L475.7,126.8 L476.0,127.2 L476.2,127.5 L476.5,127.6 L476.8,127.6 L477.2,127.6 L477.6,127.6 L477.9,127.7 L478.3,127.8 L478.6,127.9 L478.9,128.1 L479.2,128.3 L479.5,128.6 L479.8,128.9 L480.1,129.1 L480.4,129.4 L480.7,129.6 L481.0,129.9 L481.4,130.1 L481.7,130.2 L482.1,130.4 L482.6,130.4 L483.0,130.5 L483.0,150 L297.6,150 Z" fill="#86aefe" stroke="none"/>
<path d="M357.0,60.8 L357.5,60.8 L357.9,60.7 L358.4,60.6 L358.8,60.5 L359.3,60.3 L359.7,60.1 L360.2,59.8 L360.6,59.5 L361.1,59.1 L361.5,58.8 L362.0,58.5 L362.5,58.1 L362.9,57.9 L363.4,57.7 L363.8,57.7 L364.3,57.9 L364.7,58.3 L365.1,58.7 L365.6,59.3 L366.0,59.8 L366.4,60.4 L366.8,61.1 L367.2,61.8 L367.7,62.5 L368.1,63.0 L368.5,63.4 L369.0,63.5 L369.5,63.5 L370.0,63.5 L370.6,63.3 L371.1,63.1 L371.6,62.9 L372.2,62.7 L372.7,62.5 L373.2,62.4 L373.7,62.3 L374.1,62.3 L374.6,62.5 L375.0,62.8 L375.4,63.3 L375.7,63.7 L376.1,64.1 L376.5,64.6 L376.9,65.0 L377.2,65.4 L377.6,65.9 L378.0,66.3 L378.3,66.8 L378.6,67.3 L379.0,67.7 L379.3,68.2 L379.6,68.7 L379.9,69.2 L380.2,69.7 L380.5,70.2 L380.9,70.7 L381.2,71.2 L381.4,71.7 L381.7,72.2 L382.0,72.8 L382.3,73.3 L382.5,73.9 L382.8,74.4 L383.0,75.0 L383.0,150 L357.0,150 Z" fill="#80ee30" stroke="none"/>
<path d="M297.5,148.0 L297.5,145.2 L297.5,142.7 L297.5,140.5 L297.5,138.4 L297.6,136.6 L297.6,134.9 L297.6,133.5 L297.6,132.2 L297.7,131.0 L297.7,130.0 L297.8,129.0 L297.9,128.2 L298.1,127.4 L298.3,126.6 L298.5,125.7 L298.7,124.7 L298.9,123.6 L299.2,122.4 L299.4,121.3 L299.7,120.1 L300.0,119.0 L300.3,117.9 L300.6,116.8 L301.0,115.8 L301.3,114.7 L301.6,113.6 L301.9,112.4 L302.2,111.1 L302.4,109.7 L302.6,108.2 L302.8,106.7 L303.0,105.1 L303.2,103.6 L303.5,102.1 L303.7,100.7 L303.9,99.3 L304.2,98.1 L304.4,96.9 L304.7,95.7 L305.0,94.5 L305.2,93.4 L305.5,92.2 L305.9,91.0 L306.2,89.8 L306.6,88.5 L306.9,87.3 L307.3,86.1 L307.7,85.0 L308.0,84.0 L308.3,83.1 L308.6,82.2 L309.0,81.4 L309.3,80.7 L309.7,79.9 L310.1,79.1 L310.5,78.2 L310.9,77.4 L311.4,76.5 L311.9,75.6 L312.5,74.7 L313.1,73.7 L313.7,72.8 L314.4,71.8 L315.0,70.8 L315.7,69.9 L316.4,69.0 L317.0,68.2 L317.7,67.4 L318.4,66.6 L319.1,65.9 L319.8,65.2 L320.6,64.4 L321.4,63.7 L322.2,63.1 L323.0,62.4 L323.8,61.8 L324.7,61.3 L325.6,60.8 L326.5,60.3 L327.5,59.9 L328.5,59.5 L329.4,59.2 L330.4,58.9 L331.3,58.7 L332.3,58.4 L333.3,58.3 L334.2,58.1 L335.1,58.0 L335.9,57.9 L336.7,57.8 L337.4,57.7 L338.2,57.7 L339.1,57.7 L340.0,57.8 L340.9,57.9 L341.8,58.0 L342.7,58.2 L343.6,58.3 L344.5,58.4 L345.4,58.6 L346.2,58.7 L347.0,58.9 L347.7,59.1 L348.3,59.4 L349.0,59.7 L349.6,60.0 L350.1,60.5 L350.7,61.0 L351.2,61.4 L351.7,61.5 L352.3,61.3 L352.8,61.0 L353.4,60.8 L353.9,60.6 L354.4,60.4 L355.0,60.4 L355.8,60.4 L356.7,60.6 L357.7,60.7 L358.7,61.0 L359.6,61.2 L360.3,61.5 L361.0,61.8 L361.7,62.1 L362.4,62.4 L363.0,62.8 L363.6,63.1 L364.2,63.5 L364.7,63.9 L365.3,64.5 L365.8,65.0 L366.3,65.6 L366.8,66.3 L367.3,66.9 L367.7,67.5 L368.1,68.1 L368.6,68.6 L369.2,68.9 L369.9,69.1 L370.7,69.3 L371.4,69.3 L372.1,69.2 L372.9,68.9 L373.6,68.5 L374.2,68.2 L374.9,68.1 L375.5,68.2 L376.1,68.3 L376.6,68.5 L377.1,68.8 L377.6,69.0 L378.1,69.3 L378.6,69.7 L379.1,70.1 L379.6,70.6 L380.0,71.1 L380.5,71.6 L380.9,72.1 L381.4,72.6 L382.0,73.0 L382.8,73.3 L383.7,73.7 L384.7,74.0 L385.6,74.3 L386.6,74.8 L387.6,75.3 L388.7,75.9 L389.7,76.5 L390.7,77.1 L391.6,77.7 L392.3,78.2 L392.9,78.8 L393.4,79.3 L394.0,79.9 L394.6,80.3 L395.5,80.8 L396.4,81.2 L397.4,81.6 L398.4,82.0 L399.4,82.3 L400.4,82.6 L401.3,82.9 L402.1,83.1 L403.0,83.3 L403.9,83.5 L404.7,83.7 L405.4,84.0 L406.1,84.2 L406.9,84.6 L407.7,85.0 L408.6,85.5 L409.6,86.1 L410.6,86.7 L411.7,87.4 L412.7,88.2 L413.6,88.9 L414.4,89.5 L415.0,90.2 L415.6,90.8 L416.2,91.5 L416.9,92.2 L417.7,93.0 L418.5,93.8 L419.5,94.7 L420.6,95.7 L421.7,96.7 L422.8,97.7 L423.8,98.7 L424.8,99.6 L425.7,100.4 L426.6,101.3 L427.4,102.0 L428.2,102.8 L429.0,103.5 L429.7,104.2 L430.4,104.9 L430.9,105.6 L431.4,106.2 L431.9,106.8 L432.5,107.5 L433.1,108.1 L433.6,108.8 L434.2,109.5 L434.8,110.2 L435.5,110.9 L436.1,111.7 L436.7,112.4 L437.4,113.2 L438.0,113.9 L438.5,114.7 L439.0,115.5 L439.5,116.2 L439.9,117.0 L440.3,117.8 L440.7,118.7 L441.0,119.5 L441.3,120.4 L441.6,121.3 L442.0,122.2 L442.3,123.2 L442.6,124.1 L443.0,125.0 L443.4,125.9 L443.8,126.9 L444.3,127.8 L444.7,128.7 L445.1,129.7 L445.6,130.7 L446.0,131.6 L446.5,132.3 L446.9,132.5 L447.3,132.2 L447.7,131.6 L448.0,130.7 L448.4,129.8 L448.7,129.0 L449.0,128.3 L449.4,127.5 L449.7,126.8 L450.1,126.1 L450.6,125.3 L451.1,124.4 L451.7,123.5 L452.3,122.7 L453.0,122.0 L453.6,121.4 L454.3,120.9 L455.0,120.5 L455.7,120.2 L456.5,119.9 L457.4,119.7 L458.4,119.6 L459.4,119.4 L460.4,119.4 L461.3,119.4 L462.1,119.6 L462.9,119.9 L463.7,120.3 L464.4,120.8 L465.2,121.4 L465.9,122.0 L466.6,122.7 L467.3,123.4 L467.9,124.1 L468.6,124.9 L469.3,125.6 L470.0,126.4 L470.7,127.1 L471.4,127.8 L472.1,128.4 L472.8,129.0 L473.6,129.5 L474.4,129.9 L475.2,130.2 L476.0,130.5 L476.7,130.7 L477.4,130.9 L478.1,131.0 L478.8,131.0 L479.6,131.0 L480.4,130.9 L481.2,130.8 L482.1,130.7 L483.0,130.5 L483.0,150 L297.5,150 Z" fill="#fd589a" stroke="none"/>
<path d="M295.6,148.0 L295.6,145.4 L295.7,142.7 L295.7,140.0 L295.8,137.3 L295.8,134.6 L295.9,131.9 L295.9,129.1 L296.0,126.4 L296.0,123.6 L296.1,120.8 L296.1,118.0 L296.2,115.2 L296.3,112.3 L296.3,109.5 L296.4,106.7 L296.5,103.8 L296.6,101.0 L296.7,98.2 L296.7,95.3 L296.8,92.4 L297.0,89.6 L297.1,86.7 L297.2,83.9 L297.3,81.1 L297.4,78.3 L297.6,75.6 L297.7,72.9 L297.9,70.2 L298.0,67.5 L298.2,64.9 L298.4,62.3 L298.6,59.9 L298.8,57.5 L299.0,55.3 L299.2,53.2 L299.4,51.2 L299.6,49.4 L299.9,47.6 L300.1,45.8 L300.4,44.1 L300.6,42.3 L300.9,40.6 L301.1,38.9 L301.4,37.2 L301.7,35.6 L302.0,34.0 L302.3,32.4 L302.7,30.9 L303.0,29.4 L303.4,28.0 L303.8,26.6 L304.2,25.3 L304.6,24.1 L305.1,22.9 L305.6,21.8 L306.2,20.8 L306.9,19.9 L307.6,19.2 L308.4,18.6 L309.3,18.2 L310.2,18.1 L311.1,18.3 L312.0,18.8 L312.9,19.4 L313.7,20.1 L314.6,21.0 L315.4,22.0 L316.2,23.0 L316.9,24.1 L317.7,25.3 L318.4,26.4 L319.0,27.6 L319.6,28.6 L320.1,29.7 L320.6,30.7 L321.2,31.9 L321.8,33.1 L322.5,34.4 L323.2,35.7 L323.8,37.1 L324.5,38.5 L325.1,39.9 L325.7,41.3 L326.3,42.6 L327.0,44.0 L327.8,45.3 L328.6,46.5 L329.5,47.8 L330.4,49.0 L331.2,50.3 L332.0,51.5 L332.7,52.8 L333.5,54.0 L334.2,55.2 L334.9,56.3 L335.7,57.4 L336.4,58.4 L337.1,59.6 L337.7,60.8 L338.3,62.1 L338.9,63.4 L339.5,64.8 L340.0,66.1 L340.5,67.4 L341.0,68.7 L341.4,70.0 L341.9,71.2 L342.4,72.6 L343.0,73.9 L343.5,75.2 L344.1,76.6 L344.7,77.9 L345.2,79.1 L345.8,80.4 L346.4,81.6 L347.0,82.9 L347.6,84.2 L348.2,85.6 L348.9,87.0 L349.5,88.4 L350.1,89.8 L350.8,91.1 L351.5,92.5 L352.3,93.8 L353.0,95.2 L353.7,96.5 L354.3,97.9 L355.0,99.2 L355.6,100.6 L356.2,102.0 L356.8,103.4 L357.2,104.7 L357.7,106.1 L358.1,107.6 L358.5,109.0 L358.9,110.5 L359.3,112.0 L359.6,113.6 L360.0,115.2 L360.3,116.9 L360.6,118.7 L360.9,120.6 L361.3,122.6 L361.6,124.7 L361.9,126.8 L362.2,129.0 L362.4,131.2 L362.7,133.5 L363.0,135.8 L363.2,138.1 L363.4,140.6 L363.7,143.0 L363.9,145.5 L364.1,148.0" fill="none" stroke="#f8982e" stroke-width="2.1"/>
<path d="M325.1,58.6 L325.3,59.6 L325.4,60.7 L325.6,61.8 L325.8,62.9 L325.9,64.1 L326.0,65.2 L326.2,66.3 L326.4,67.4 L326.6,68.4 L326.9,69.4 L327.2,70.3 L327.4,71.2 L327.6,72.2 L327.8,73.1 L327.9,74.0 L328.1,74.9 L328.3,75.8 L328.4,76.7 L328.6,77.5 L328.8,77.8 L329.1,77.6 L329.6,77.2 L330.1,76.9 L330.6,76.8 L331.1,76.8 L331.4,77.3 L331.7,78.1 L331.9,79.0 L332.1,79.9 L332.3,80.8 L332.5,81.6 L332.6,82.5 L332.8,83.3 L332.9,84.2 L333.0,85.0 L333.2,86.0 L333.3,87.2 L333.4,88.7 L333.5,90.5 L333.6,92.5 L333.7,94.7 L333.8,97.0 L333.9,99.3 L334.0,101.7 L334.1,104.0 L334.2,106.1 L334.3,108.0 L334.4,109.7 L334.6,111.2 L334.8,112.7 L334.9,114.1 L335.1,115.4 L335.3,116.8 L335.5,118.2 L335.7,119.7 L336.0,121.2 L336.2,122.7 L336.5,123.8 L336.7,124.4 L336.9,124.4 L337.1,123.7 L337.3,122.5 L337.4,121.1 L337.6,119.5 L337.8,118.0 L338.0,116.6 L338.2,115.2 L338.3,114.0 L338.5,113.2 L338.7,113.0 L338.9,113.5 L339.2,114.4 L339.4,115.7 L339.7,117.2 L340.0,118.6 L340.2,119.8 L340.5,121.1 L340.7,122.3 L340.9,123.5 L341.2,124.7 L341.5,126.0 L341.8,127.3 L342.1,128.8 L342.4,130.0 L342.8,131.0 L343.1,131.4 L343.5,131.1 L343.9,130.2 L344.3,129.3 L344.7,128.9 L345.1,129.2 L345.4,130.1 L345.8,131.3 L346.1,132.7 L346.5,134.1 L347.0,135.4 L347.5,136.7 L348.0,138.0 L348.5,139.3 L349.0,140.5 L349.4,141.7 L349.8,142.9 L350.1,144.1 L350.3,145.2 L350.6,145.8 L350.9,146.0 L351.1,145.4 L351.4,144.4 L351.6,143.1 L351.9,141.8 L352.1,140.5 L352.3,139.2 L352.5,137.9 L352.7,136.8 L352.9,136.2 L353.1,136.0 L353.3,136.2 L353.4,136.9 L353.6,138.0 L353.8,139.7 L353.9,141.9 L354.1,144.6 L354.2,148.0" fill="none" stroke="#4318e0" stroke-width="1.7"/>
<path d="M297.6,148.0 L297.6,146.1 L297.7,144.4 L297.7,142.6 L297.7,140.9 L297.8,139.3 L297.8,137.7 L297.9,136.2 L297.9,134.7 L297.9,133.3 L298.0,131.9 L298.0,130.5 L298.1,129.1 L298.1,127.8 L298.2,126.4 L298.3,125.1 L298.4,123.7 L298.6,122.4 L298.9,121.1 L299.1,119.8 L299.4,118.6 L299.6,117.4 L299.9,116.3 L300.2,115.2 L300.5,114.2 L300.8,113.0 L301.0,111.8 L301.2,110.4 L301.3,108.9 L301.5,107.4 L301.6,105.7 L301.7,104.0 L301.8,102.3 L301.9,100.6 L302.1,98.9 L302.2,97.2 L302.4,95.5 L302.6,93.8 L302.7,92.1 L302.9,90.5 L303.1,89.0 L303.3,87.5 L303.5,86.2 L303.8,85.0 L304.0,83.8 L304.3,82.7 L304.6,81.6 L304.9,80.6 L305.3,79.7 L305.7,78.7 L306.1,77.8 L306.5,76.7 L306.8,75.5 L307.1,74.2 L307.4,72.8 L307.6,71.3 L307.9,69.8 L308.1,68.4 L308.4,67.2 L308.8,66.2 L309.2,65.3 L309.6,64.5 L310.1,63.7 L310.6,62.8 L311.2,61.8 L311.9,60.8 L312.5,59.9 L313.2,59.2 L313.8,58.9 L314.5,58.9 L315.1,58.9 L315.5,58.6 L316.0,58.0 L316.3,57.1 L316.7,56.1 L317.2,55.2 L317.7,54.3 L318.3,53.5 L318.9,52.8 L319.5,52.6 L320.2,52.6 L320.8,52.7 L321.5,53.0 L322.1,53.4 L322.7,53.9 L323.2,54.5 L323.7,55.0 L324.1,55.6 L324.4,56.2 L324.7,56.9 L324.9,57.7 L325.1,58.6 L325.3,59.6" fill="none" stroke="#1a1ed6" stroke-width="2.2"/>
<path d="M363.5,147.0 L363.6,145.5 L363.7,144.2 L363.9,143.1 L364.1,142.1 L364.3,141.2 L364.5,140.6 L364.8,140.2 L365.1,140.0 L365.4,139.9 L365.9,139.9 L366.3,140.0 L366.5,140.2 L366.8,140.6 L367.1,141.3 L367.3,142.1 L367.5,143.1 L367.7,144.2 L367.9,145.5 L368.0,147.0" fill="none" stroke="#4318e0" stroke-width="1.6"/>
<path d="M376.9,147.0 L377.1,141.1 L377.3,136.5 L377.5,133.2 L377.6,131.1 L377.8,130.0 L378.0,129.9 L378.2,130.5 L378.4,132.3 L378.6,134.9 L378.7,137.9 L378.9,141.0 L379.1,143.7 L379.4,145.5 L379.9,146.2 L380.9,146.3 L381.7,145.9 L382.1,144.5 L382.4,142.1 L382.6,139.5 L382.9,137.0 L383.2,135.5 L383.7,135.2 L384.4,135.9 L385.1,137.3 L385.6,138.8 L385.9,140.8 L386.3,142.7 L386.5,144.1 L386.8,144.5 L387.1,143.6 L387.3,141.6 L387.5,139.0 L387.7,136.2 L388.0,133.5 L388.3,131.3 L388.8,129.8 L389.4,128.7 L390.1,127.6 L390.7,126.3 L391.1,124.7 L391.6,122.8 L392.0,120.8 L392.4,118.7 L392.8,116.7 L393.3,114.9 L393.8,113.1 L394.3,111.8 L394.9,111.0 L395.3,111.3 L395.8,112.5 L396.2,114.2 L396.7,116.3 L397.1,118.3 L397.4,120.4 L397.7,122.4 L398.1,124.4 L398.4,126.1 L398.9,127.4 L399.6,128.4 L400.5,129.2 L401.4,130.3 L401.9,131.8 L402.3,134.2 L402.6,137.2 L402.9,140.3 L403.1,143.1 L403.4,145.2 L403.6,146.0 L404.0,145.2 L404.3,143.1 L404.7,140.2 L405.0,137.3 L405.3,135.0 L405.6,134.0 L405.8,134.8 L406.0,136.9 L406.2,139.5 L406.4,142.1 L406.5,143.7 L406.7,143.9 L406.9,142.8 L407.1,140.7 L407.3,137.8 L407.5,134.6 L407.7,131.2 L407.9,128.1 L408.2,125.3 L408.6,122.6 L409.0,120.0 L409.4,117.5 L409.9,115.1 L410.3,112.8 L410.9,110.6 L411.4,108.4 L412.0,106.1 L412.7,104.0 L413.4,102.4 L414.1,101.5 L414.7,101.6 L415.3,102.6 L415.9,104.1 L416.4,105.7 L416.8,107.3 L417.2,108.8 L417.6,110.4 L417.9,112.1 L418.2,114.1 L418.5,116.3 L418.7,118.8 L419.0,121.3 L419.2,123.8 L419.5,126.1 L419.9,127.9 L420.5,129.1 L421.6,130.0 L422.8,130.8 L423.8,131.9 L424.3,133.6 L424.7,136.1 L425.0,138.9 L425.3,141.8 L425.6,144.2 L425.8,145.7 L426.1,145.9 L426.4,145.0 L426.7,143.1 L427.0,140.6 L427.3,137.7 L427.6,134.8 L427.9,132.1 L428.3,129.5 L428.8,127.0 L429.2,124.6 L429.7,122.3 L430.2,120.2 L430.6,118.3 L431.0,116.5 L431.4,115.0 L431.7,113.5 L432.1,112.2 L432.5,110.9 L432.9,109.7 L433.3,108.6 L433.8,107.5" fill="none" stroke="#4318e0" stroke-width="1.6"/>
<path d="M433.8,107.5 L434.1,107.1 L434.4,106.8 L434.7,106.4 L435.0,106.2 L435.4,105.9 L435.8,105.8 L436.2,105.6 L436.6,105.6 L436.9,105.6 L437.3,105.8 L437.5,106.1 L437.8,106.6 L438.1,107.1 L438.4,107.8 L438.7,108.5 L439.1,109.3 L439.4,110.2 L439.8,111.1 L440.1,112.0 L440.5,112.8 L440.8,113.4 L441.1,113.7 L441.4,113.7 L441.6,113.5 L441.8,113.0 L442.0,112.5 L442.2,112.0 L442.4,111.5 L442.6,111.1 L442.9,110.8 L443.1,110.6 L443.3,110.7 L443.4,111.1 L443.6,111.6 L443.8,112.2 L443.9,112.8 L444.1,113.4 L444.3,113.9 L444.4,114.5 L444.6,114.8 L444.7,115.0 L444.9,114.9 L445.1,114.4 L445.2,113.8 L445.4,113.1 L445.5,112.3 L445.7,111.5 L445.9,110.7 L446.1,110.0 L446.3,109.3 L446.5,108.7 L446.7,108.3 L446.8,108.1 L447.0,108.2 L447.2,108.5 L447.3,109.1 L447.5,109.9 L447.6,110.8 L447.7,111.7 L447.9,112.7 L448.0,113.6 L448.2,114.5 L448.3,115.5 L448.4,116.4 L448.5,117.3 L448.7,118.0 L448.8,118.5 L448.9,118.7 L449.1,118.7 L449.3,118.4 L449.4,117.8 L449.6,117.1 L449.8,116.3 L450.0,115.5 L450.2,114.8 L450.3,114.0 L450.5,113.2 L450.7,112.5 L450.8,111.9 L451.0,111.5 L451.2,111.3 L451.5,111.3 L451.8,111.5 L452.0,111.8 L452.3,112.1 L452.5,112.5 L452.7,112.8 L452.9,113.2 L453.1,113.7 L453.3,114.1 L453.5,114.6 L453.7,115.2 L454.0,115.7 L454.2,116.2 L454.5,116.6 L454.7,117.0 L455.0,117.3 L455.2,117.6 L455.5,117.9 L455.8,118.2 L456.1,118.6 L456.4,118.9 L456.7,119.2 L457.0,119.5 L457.4,119.9 L457.8,120.2 L458.2,120.4 L458.6,120.6 L458.9,120.6 L459.2,120.3 L459.6,120.0 L459.9,119.5 L460.2,119.1 L460.5,118.8 L460.9,118.4 L461.3,118.2 L461.6,118.0 L462.0,118.0 L462.3,118.2 L462.7,118.5 L463.0,118.9 L463.3,119.3 L463.7,119.6 L464.0,119.9 L464.3,120.1 L464.7,120.4 L465.0,120.6 L465.4,120.9 L465.8,121.3 L466.1,121.6 L466.5,122.0 L466.9,122.4 L467.3,122.8 L467.6,123.2 L467.9,123.5 L468.3,123.9 L468.6,124.3 L468.9,124.6 L469.2,124.8 L469.5,125.1 L469.8,125.3 L470.1,125.6 L470.5,125.9 L470.8,126.1 L471.1,126.2 L471.4,126.2 L471.6,125.9 L471.8,125.4 L472.0,124.7 L472.2,124.0 L472.4,123.3 L472.6,122.7 L472.8,122.1 L473.1,121.5 L473.3,121.0 L473.6,120.7 L473.8,120.6 L474.0,120.8 L474.2,121.3 L474.4,122.0 L474.5,122.7 L474.7,123.5 L474.9,124.2 L475.1,124.9 L475.3,125.6 L475.5,126.2 L475.7,126.8 L476.0,127.2 L476.2,127.5 L476.5,127.6 L476.8,127.6 L477.2,127.6 L477.6,127.6 L477.9,127.7 L478.3,127.8 L478.6,127.9 L478.9,128.1 L479.2,128.3 L479.5,128.6 L479.8,128.9 L480.1,129.1 L480.4,129.4 L480.7,129.6 L481.0,129.9 L481.4,130.1 L481.7,130.2 L482.1,130.4 L482.6,130.4 L483.0,130.5" fill="none" stroke="#1030f0" stroke-width="2"/>
<path d="M357.0,60.8 L357.5,60.8 L357.9,60.7 L358.4,60.6 L358.8,60.5 L359.3,60.3 L359.7,60.1 L360.2,59.8 L360.6,59.5 L361.1,59.1 L361.5,58.8 L362.0,58.5 L362.5,58.1 L362.9,57.9 L363.4,57.7 L363.8,57.7 L364.3,57.9 L364.7,58.3 L365.1,58.7 L365.6,59.3 L366.0,59.8 L366.4,60.4 L366.8,61.1 L367.2,61.8 L367.7,62.5 L368.1,63.0 L368.5,63.4 L369.0,63.5 L369.5,63.5 L370.0,63.5 L370.6,63.3 L371.1,63.1 L371.6,62.9 L372.2,62.7 L372.7,62.5 L373.2,62.4 L373.7,62.3 L374.1,62.3 L374.6,62.5 L375.0,62.8 L375.4,63.3 L375.7,63.7 L376.1,64.1 L376.5,64.6 L376.9,65.0 L377.2,65.4 L377.6,65.9 L378.0,66.3 L378.3,66.8 L378.6,67.3 L379.0,67.7 L379.3,68.2 L379.6,68.7 L379.9,69.2 L380.2,69.7 L380.5,70.2 L380.9,70.7 L381.2,71.2 L381.4,71.7 L381.7,72.2 L382.0,72.8 L382.3,73.3 L382.5,73.9 L382.8,74.4 L383.0,75.0" fill="none" stroke="#0a8a10" stroke-width="2"/>
<path d="M295.5,118.0 L295.8,118.9 L296.2,119.7 L296.5,120.6 L296.8,121.5 L297.1,122.3 L297.4,123.2 L297.6,124.0 L297.9,124.9 L298.1,125.8 L298.4,126.8 L298.7,127.8 L299.1,128.9 L299.4,130.0 L299.7,131.1 L300.1,132.2 L300.5,133.4 L300.9,134.6 L301.3,135.7 L301.7,136.3 L302.1,136.5 L302.4,136.0 L302.7,135.2 L303.0,134.0 L303.3,132.8 L303.6,131.6 L303.9,130.4 L304.2,129.3 L304.4,128.1 L304.7,126.9 L305.0,125.6 L305.2,124.3 L305.5,122.8 L305.8,121.3 L306.1,119.7 L306.3,118.1 L306.6,116.5 L306.9,115.0 L307.2,113.6 L307.4,112.4 L307.7,111.2 L308.0,110.2 L308.3,109.2 L308.6,108.2 L309.0,107.1 L309.4,105.9 L309.8,104.7 L310.3,103.5 L310.8,102.2 L311.2,100.9 L311.7,99.7 L312.2,98.6 L312.6,97.4 L313.0,96.4 L313.5,95.3 L313.9,94.3 L314.4,93.3 L314.8,92.3 L315.3,91.3 L315.7,90.4 L316.2,89.4 L316.7,88.4 L317.2,87.3 L317.7,86.2 L318.2,85.1 L318.7,83.9 L319.2,82.9 L319.7,82.0 L320.2,81.2 L320.6,80.7 L321.1,80.2 L321.6,79.7 L322.1,78.9 L322.7,78.0 L323.4,77.0 L324.1,75.8 L324.8,74.7 L325.5,73.6 L326.3,72.6 L327.2,71.7 L328.1,70.8 L329.0,69.9 L330.0,69.1 L330.9,68.4 L331.9,67.7 L332.9,67.2 L333.9,66.7 L335.0,66.2 L336.0,65.7 L337.0,65.3 L338.1,64.9 L339.1,64.4 L340.1,63.9 L341.1,63.5 L342.2,63.1 L343.2,62.8 L344.3,62.6 L345.5,62.4 L346.6,62.2 L347.7,62.2 L348.6,62.3 L349.4,62.6 L350.2,63.1 L350.8,63.7 L351.5,64.0 L352.2,63.9 L352.9,63.4 L353.5,62.7 L354.2,62.0 L354.9,61.5 L355.5,61.1 L356.2,60.8 L356.8,60.6 L357.5,60.6 L358.1,60.5 L358.7,60.4 L359.4,60.3 L360.0,59.9 L360.6,59.5 L361.2,59.0 L361.9,58.6 L362.5,58.1 L363.2,57.8 L363.8,57.7 L364.4,58.0 L365.0,58.6 L365.6,59.3 L366.2,60.0 L366.7,60.9 L367.3,61.9 L367.9,62.8 L368.5,63.4 L369.1,63.5 L369.8,63.5 L370.6,63.3 L371.3,63.1 L372.0,62.8 L372.8,62.5 L373.5,62.3 L374.1,62.3 L374.7,62.6 L375.2,63.1 L375.8,63.7 L376.3,64.3 L376.8,64.9 L377.3,65.5 L377.8,66.1 L378.3,66.8 L378.7,67.4 L379.2,68.1 L379.6,68.7 L380.1,69.4 L380.5,70.1 L380.9,70.8 L381.3,71.5 L381.7,72.4 L382.0,73.4 L382.3,74.5 L382.6,75.7 L382.8,76.9 L383.1,78.2 L383.4,79.6 L383.7,81.0 L384.0,82.5 L384.4,84.1 L384.7,85.6 L385.0,87.2 L385.3,88.7 L385.5,90.2 L385.8,91.6 L386.0,93.0 L386.3,94.4 L386.5,95.8 L386.7,97.1 L387.0,98.5 L387.2,99.9 L387.5,101.4 L387.7,103.0 L388.0,104.5 L388.3,106.1 L388.6,107.8 L388.9,109.4 L389.2,111.0 L389.4,112.5 L389.7,114.0 L389.9,115.5 L390.2,117.0 L390.4,118.4 L390.7,119.9 L390.9,121.3 L391.1,122.7 L391.3,124.1 L391.4,125.6 L391.5,127.1 L391.6,128.5 L391.7,129.6 L391.9,130.3 L392.2,130.4 L392.8,130.3 L393.6,129.9 L394.4,129.5 L395.1,129.3 L395.9,129.0 L396.6,129.0 L397.1,129.1 L397.5,129.5 L397.9,130.4 L398.2,131.6 L398.5,132.9 L398.8,134.5 L399.1,136.1 L399.3,138.1 L399.6,140.3 L399.8,142.4 L400.0,144.4 L400.3,146.1 L400.5,147.4 L400.7,148.0 L400.9,147.8 L401.1,146.8 L401.3,145.1 L401.5,143.0 L401.7,140.8 L401.9,138.7 L402.2,136.8 L402.5,135.4 L402.9,134.8 L403.5,134.5 L404.3,134.5 L405.0,134.6 L405.7,134.8 L406.4,135.2 L407.1,135.4 L407.8,135.5 L408.6,135.4 L409.3,135.2 L410.1,134.9 L410.8,134.7 L411.6,134.4 L412.3,134.1 L413.0,133.7 L413.7,133.3 L414.4,132.6 L415.0,131.9 L415.6,131.1 L416.3,130.3 L416.9,129.5 L417.5,128.7 L418.2,128.0 L418.8,127.6 L419.4,127.6 L420.0,128.1 L420.6,129.0 L421.2,129.8 L421.9,130.4 L422.6,130.5 L423.5,130.3 L424.3,130.0 L425.2,129.6 L426.0,129.3 L426.8,128.9 L427.6,128.6 L428.3,128.4 L429.1,128.4 L429.9,128.6 L430.7,128.9 L431.5,129.2 L432.2,129.6 L432.9,130.0 L433.6,130.4 L434.2,130.9 L434.8,131.5 L435.2,132.3 L435.7,133.2 L436.1,134.3 L436.4,135.5 L436.7,136.7 L437.0,138.0 L437.3,139.4 L437.6,140.9 L437.8,142.4 L438.1,144.0 L438.3,145.6 L438.5,147.3 L438.6,149.0" fill="none" stroke="#3c372c" stroke-width="1.6"/>
<path d="M441.4,147.0 L441.6,145.9 L441.9,144.6 L442.2,143.3 L442.5,142.0 L442.8,140.7 L443.1,139.4 L443.4,138.2 L443.8,137.1 L444.2,136.0 L444.6,135.1 L445.0,134.5 L445.4,134.2 L445.7,134.4 L446.1,135.0 L446.4,135.9 L446.8,137.0 L447.0,138.2 L447.3,139.4 L447.5,140.6 L447.7,142.0 L447.9,143.3 L448.1,144.6 L448.3,145.8 L448.4,147.0" fill="none" stroke="#3c372c" stroke-width="1.6"/>
<path d="M467.4,147.0 L467.6,144.8 L467.8,142.9 L468.1,141.3 L468.3,140.1 L468.6,139.1 L468.8,138.5 L469.1,138.1 L469.4,138.0 L469.7,138.1 L470.1,138.5 L470.4,139.1 L470.8,139.7 L471.2,140.3 L471.5,140.9 L471.8,141.5 L472.1,141.9 L472.5,142.0 L472.8,141.6 L473.1,141.0 L473.4,140.0 L473.7,138.9 L474.0,137.8 L474.3,136.7 L474.6,135.7 L474.9,134.7 L475.1,133.8 L475.4,132.9 L475.7,132.2 L476.0,131.6 L476.4,131.2 L476.9,130.9 L477.5,130.7 L478.2,130.6 L478.8,130.5 L479.4,130.5 L480.1,130.5 L480.7,130.5 L481.3,130.4 L482.0,130.4" fill="none" stroke="#3c372c" stroke-width="1.6"/>
<path d="M297.5,148.0 L297.5,145.2 L297.5,142.7 L297.5,140.5 L297.5,138.4 L297.6,136.6 L297.6,134.9 L297.6,133.5 L297.6,132.2 L297.7,131.0 L297.7,130.0 L297.8,129.0 L297.9,128.2 L298.1,127.4 L298.3,126.6 L298.5,125.7 L298.7,124.7 L298.9,123.6 L299.2,122.4 L299.4,121.3 L299.7,120.1 L300.0,119.0 L300.3,117.9 L300.6,116.8 L301.0,115.8 L301.3,114.7 L301.6,113.6 L301.9,112.4 L302.2,111.1 L302.4,109.7 L302.6,108.2 L302.8,106.7 L303.0,105.1 L303.2,103.6 L303.5,102.1 L303.7,100.7 L303.9,99.3 L304.2,98.1 L304.4,96.9 L304.7,95.7 L305.0,94.5 L305.2,93.4 L305.5,92.2 L305.9,91.0 L306.2,89.8 L306.6,88.5 L306.9,87.3 L307.3,86.1 L307.7,85.0 L308.0,84.0 L308.3,83.1 L308.6,82.2 L309.0,81.4 L309.3,80.7 L309.7,79.9 L310.1,79.1 L310.5,78.2 L310.9,77.4 L311.4,76.5 L311.9,75.6 L312.5,74.7 L313.1,73.7 L313.7,72.8 L314.4,71.8 L315.0,70.8 L315.7,69.9 L316.4,69.0 L317.0,68.2 L317.7,67.4 L318.4,66.6 L319.1,65.9 L319.8,65.2 L320.6,64.4 L321.4,63.7 L322.2,63.1 L323.0,62.4 L323.8,61.8 L324.7,61.3 L325.6,60.8 L326.5,60.3 L327.5,59.9 L328.5,59.5 L329.4,59.2 L330.4,58.9 L331.3,58.7 L332.3,58.4 L333.3,58.3 L334.2,58.1 L335.1,58.0 L335.9,57.9 L336.7,57.8 L337.4,57.7 L338.2,57.7 L339.1,57.7 L340.0,57.8 L340.9,57.9 L341.8,58.0 L342.7,58.2 L343.6,58.3 L344.5,58.4 L345.4,58.6 L346.2,58.7 L347.0,58.9 L347.7,59.1 L348.3,59.4 L349.0,59.7 L349.6,60.0 L350.1,60.5 L350.7,61.0 L351.2,61.4 L351.7,61.5 L352.3,61.3 L352.8,61.0 L353.4,60.8 L353.9,60.6 L354.4,60.4 L355.0,60.4 L355.8,60.4 L356.7,60.6 L357.7,60.7 L358.7,61.0 L359.6,61.2 L360.3,61.5 L361.0,61.8 L361.7,62.1 L362.4,62.4 L363.0,62.8 L363.6,63.1 L364.2,63.5 L364.7,63.9 L365.3,64.5 L365.8,65.0 L366.3,65.6 L366.8,66.3 L367.3,66.9 L367.7,67.5 L368.1,68.1 L368.6,68.6 L369.2,68.9 L369.9,69.1 L370.7,69.3 L371.4,69.3 L372.1,69.2 L372.9,68.9 L373.6,68.5 L374.2,68.2 L374.9,68.1 L375.5,68.2 L376.1,68.3 L376.6,68.5 L377.1,68.8 L377.6,69.0 L378.1,69.3 L378.6,69.7 L379.1,70.1 L379.6,70.6 L380.0,71.1 L380.5,71.6 L380.9,72.1 L381.4,72.6 L382.0,73.0 L382.8,73.3 L383.7,73.7 L384.7,74.0 L385.6,74.3 L386.6,74.8 L387.6,75.3 L388.7,75.9 L389.7,76.5 L390.7,77.1 L391.6,77.7 L392.3,78.2 L392.9,78.8 L393.4,79.3 L394.0,79.9 L394.6,80.3 L395.5,80.8 L396.4,81.2 L397.4,81.6 L398.4,82.0 L399.4,82.3 L400.4,82.6 L401.3,82.9 L402.1,83.1 L403.0,83.3 L403.9,83.5 L404.7,83.7 L405.4,84.0 L406.1,84.2 L406.9,84.6 L407.7,85.0 L408.6,85.5 L409.6,86.1 L410.6,86.7 L411.7,87.4 L412.7,88.2 L413.6,88.9 L414.4,89.5 L415.0,90.2 L415.6,90.8 L416.2,91.5 L416.9,92.2 L417.7,93.0 L418.5,93.8 L419.5,94.7 L420.6,95.7 L421.7,96.7 L422.8,97.7 L423.8,98.7 L424.8,99.6 L425.7,100.4 L426.6,101.3 L427.4,102.0 L428.2,102.8 L429.0,103.5 L429.7,104.2 L430.4,104.9 L430.9,105.6 L431.4,106.2 L431.9,106.8 L432.5,107.5 L433.1,108.1 L433.6,108.8 L434.2,109.5 L434.8,110.2 L435.5,110.9 L436.1,111.7 L436.7,112.4 L437.4,113.2 L438.0,113.9 L438.5,114.7 L439.0,115.5 L439.5,116.2 L439.9,117.0 L440.3,117.8 L440.7,118.7 L441.0,119.5 L441.3,120.4 L441.6,121.3 L442.0,122.2 L442.3,123.2 L442.6,124.1 L443.0,125.0 L443.4,125.9 L443.8,126.9 L444.3,127.8 L444.7,128.7 L445.1,129.7 L445.6,130.7 L446.0,131.6 L446.5,132.3 L446.9,132.5 L447.3,132.2 L447.7,131.6 L448.0,130.7 L448.4,129.8 L448.7,129.0 L449.0,128.3 L449.4,127.5 L449.7,126.8 L450.1,126.1 L450.6,125.3 L451.1,124.4 L451.7,123.5 L452.3,122.7 L453.0,122.0 L453.6,121.4 L454.3,120.9 L455.0,120.5 L455.7,120.2 L456.5,119.9 L457.4,119.7 L458.4,119.6 L459.4,119.4 L460.4,119.4 L461.3,119.4 L462.1,119.6 L462.9,119.9 L463.7,120.3 L464.4,120.8 L465.2,121.4 L465.9,122.0 L466.6,122.7 L467.3,123.4 L467.9,124.1 L468.6,124.9 L469.3,125.6 L470.0,126.4 L470.7,127.1 L471.4,127.8 L472.1,128.4 L472.8,129.0 L473.6,129.5 L474.4,129.9 L475.2,130.2 L476.0,130.5 L476.7,130.7 L477.4,130.9 L478.1,131.0 L478.8,131.0 L479.6,131.0 L480.4,130.9 L481.2,130.8 L482.1,130.7 L483.0,130.5" fill="none" stroke="#e8121e" stroke-width="1.8"/>
</g>
<rect x="293.8" y="16.8" width="188.7" height="128.0" fill="none" stroke="#1a1a1a" stroke-width="1.2"/>
<path d="M294.8,144.8L294.8,141.3 M294.8,16.8L294.8,20.3 M319.6,144.8L319.6,141.3 M319.6,16.8L319.6,20.3 M344.4,144.8L344.4,141.3 M344.4,16.8L344.4,20.3 M369.2,144.8L369.2,141.3 M369.2,16.8L369.2,20.3 M394.0,144.8L394.0,141.3 M394.0,16.8L394.0,20.3 M418.8,144.8L418.8,141.3 M418.8,16.8L418.8,20.3 M443.6,144.8L443.6,141.3 M443.6,16.8L443.6,20.3 M468.4,144.8L468.4,141.3 M468.4,16.8L468.4,20.3 M293.8,18.0L298.8,18.0 M482.5,18.0L477.5,18.0 M293.8,67.5L298.8,67.5 M482.5,67.5L477.5,67.5 M293.8,52.6L296.3,52.6 M482.5,52.6L480.0,52.6 M293.8,43.9L296.3,43.9 M482.5,43.9L480.0,43.9 M293.8,37.7L296.3,37.7 M482.5,37.7L480.0,37.7 M293.8,32.9L296.3,32.9 M482.5,32.9L480.0,32.9 M293.8,29.0L296.3,29.0 M482.5,29.0L480.0,29.0 M293.8,25.7L296.3,25.7 M482.5,25.7L480.0,25.7 M293.8,22.8L296.3,22.8 M482.5,22.8L480.0,22.8 M293.8,20.3L296.3,20.3 M482.5,20.3L480.0,20.3 M293.8,117.0L298.8,117.0 M482.5,117.0L477.5,117.0 M293.8,102.1L296.3,102.1 M482.5,102.1L480.0,102.1 M293.8,93.4L296.3,93.4 M482.5,93.4L480.0,93.4 M293.8,87.2L296.3,87.2 M482.5,87.2L480.0,87.2 M293.8,82.4L296.3,82.4 M482.5,82.4L480.0,82.4 M293.8,78.5L296.3,78.5 M482.5,78.5L480.0,78.5 M293.8,75.2L296.3,75.2 M482.5,75.2L480.0,75.2 M293.8,72.3L296.3,72.3 M482.5,72.3L480.0,72.3 M293.8,69.8L296.3,69.8 M482.5,69.8L480.0,69.8 M293.8,142.9L296.3,142.9 M482.5,142.9L480.0,142.9 M293.8,136.7L296.3,136.7 M482.5,136.7L480.0,136.7 M293.8,131.9L296.3,131.9 M482.5,131.9L480.0,131.9 M293.8,128.0L296.3,128.0 M482.5,128.0L480.0,128.0 M293.8,124.7L296.3,124.7 M482.5,124.7L480.0,124.7 M293.8,121.8L296.3,121.8 M482.5,121.8L480.0,121.8 M293.8,119.3L296.3,119.3 M482.5,119.3L480.0,119.3" stroke="#1a1a1a" stroke-width="1.0" fill="none"/>
<text x="295.1" y="158.0" font-size="10.3" text-anchor="middle" fill="#111" stroke="#111" stroke-width="0.5" font-weight="normal" >0</text>
<text x="319.90000000000003" y="158.0" font-size="10.3" text-anchor="middle" fill="#111" stroke="#111" stroke-width="0.5" font-weight="normal" >2</text>
<text x="344.70000000000005" y="158.0" font-size="10.3" text-anchor="middle" fill="#111" stroke="#111" stroke-width="0.5" font-weight="normal" >4</text>
<text x="369.50000000000006" y="158.0" font-size="10.3" text-anchor="middle" fill="#111" stroke="#111" stroke-width="0.5" font-weight="normal" >6</text>
<text x="394.3" y="158.0" font-size="10.3" text-anchor="middle" fill="#111" stroke="#111" stroke-width="0.5" font-weight="normal" >8</text>
<text x="419.1" y="158.0" font-size="10.3" text-anchor="middle" fill="#111" stroke="#111" stroke-width="0.5" font-weight="normal" >10</text>
<text x="443.90000000000003" y="158.0" font-size="10.3" text-anchor="middle" fill="#111" stroke="#111" stroke-width="0.5" font-weight="normal" >12</text>
<text x="468.7" y="158.0" font-size="10.3" text-anchor="middle" fill="#111" stroke="#111" stroke-width="0.5" font-weight="normal" >14</text>
<text x="288.3" y="21.8" font-size="9.4" text-anchor="end" fill="#111" stroke="#111" stroke-width="0.5" font-weight="normal" >1</text>
<text x="287.6" y="71.2" font-size="10.0" text-anchor="end" fill="#111" stroke="#111" stroke-width="0.5" font-weight="normal" >0.1</text>
<text x="287.6" y="120.7" font-size="10.0" text-anchor="end" fill="#111" stroke="#111" stroke-width="0.5" font-weight="normal" >0.01</text>
<text x="290.8" y="39.898030429265866" font-size="6" text-anchor="middle" fill="#111" stroke="#111" stroke-width="0.5" font-weight="bold" >4</text>
<text x="290.8" y="54.79901521463293" font-size="6" text-anchor="middle" fill="#111" stroke="#111" stroke-width="0.5" font-weight="bold" >2</text>
<text x="290.8" y="89.39803042926586" font-size="6" text-anchor="middle" fill="#111" stroke="#111" stroke-width="0.5" font-weight="bold" >4</text>
<text x="290.8" y="104.29901521463293" font-size="6" text-anchor="middle" fill="#111" stroke="#111" stroke-width="0.5" font-weight="bold" >2</text>
<text x="290.8" y="138.89803042926584" font-size="6" text-anchor="middle" fill="#111" stroke="#111" stroke-width="0.5" font-weight="bold" >4</text>
<text x="339.6" y="170.4" font-size="9.65" text-anchor="start" fill="#111" stroke="#111" stroke-width="0.5" font-weight="normal" >Frequency <tspan font-family="'Liberation Serif',serif" font-size="10.6" letter-spacing="0.55">ω/2π</tspan> (THz)</text>
<text transform="translate(264.9,144.3) rotate(-90)" font-size="9.9" fill="#111" stroke="#111" stroke-width="0.5">Signal amplitude (arb. units)</text>
<clipPath id="cc"><rect x="293.8" y="198.2" width="189.0" height="90.69999999999999"/></clipPath>
<g clip-path="url(#cc)" stroke-linejoin="round" stroke-linecap="round">
<path d="M294.7,207.8 L295.8,207.9 L296.8,207.9 L297.8,208.0 L298.9,208.0 L299.8,208.1 L300.8,208.1 L301.7,208.2 L302.6,208.3 L303.5,208.3 L304.5,208.3 L305.6,208.3 L306.9,208.3 L308.2,208.3 L309.5,208.2 L310.8,208.2 L312.0,208.2 L313.1,208.2 L314.3,208.2 L315.4,208.2 L316.5,208.3 L317.5,208.4 L318.5,208.4 L319.4,208.5 L320.4,208.5 L321.2,208.5 L321.8,208.2 L322.3,207.7 L322.7,206.9 L323.1,206.4 L323.5,206.5 L323.8,207.2 L324.1,208.1 L324.5,209.0 L324.9,209.8 L325.4,210.5 L326.0,211.1 L326.6,211.7 L327.3,212.2 L327.9,212.8 L328.5,213.3 L329.2,213.6 L329.8,213.5 L330.3,213.2 L330.9,212.6 L331.5,212.0 L332.1,211.4 L332.7,210.8 L333.4,210.3 L334.0,209.8 L334.7,209.4 L335.4,209.1 L336.1,208.9 L336.9,208.7 L337.7,208.6 L338.6,208.5 L339.5,208.4 L340.4,208.3 L341.4,208.3 L342.5,208.3 L343.7,208.3 L344.9,208.3 L346.1,208.3 L347.3,208.4 L348.6,208.4 L349.9,208.5 L351.2,208.5 L352.5,208.6 L353.8,208.6 L355.1,208.7 L356.4,208.8 L357.6,208.9 L358.7,209.0 L359.9,209.1 L361.0,209.3 L362.1,209.4 L363.2,209.6 L364.3,209.9 L365.5,210.1 L366.6,210.4 L367.7,210.7 L368.7,210.9 L369.6,211.1 L370.4,211.4 L371.2,211.6 L372.0,211.8 L372.8,212.1 L373.5,212.5 L374.3,212.9 L375.0,213.3 L375.6,213.9 L376.2,214.6 L376.8,215.3 L377.3,216.2 L377.8,217.0 L378.2,217.9 L378.6,218.7 L379.0,219.6 L379.3,220.5 L379.7,221.5 L379.9,222.6 L380.2,223.8 L380.5,225.2 L380.7,226.7 L380.9,228.2 L381.2,229.7 L381.4,231.3 L381.5,232.8 L381.7,234.3 L381.9,235.8 L382.0,237.3 L382.2,238.7 L382.3,240.2 L382.4,241.6 L382.6,242.9 L382.7,244.2 L382.9,245.4 L383.0,246.7 L383.1,247.9 L383.3,249.3 L383.4,250.7 L383.5,252.3 L383.7,254.1 L383.8,256.1 L383.9,258.2 L384.0,260.4 L384.2,262.6 L384.3,264.8 L384.4,267.0 L384.5,269.0 L384.7,270.9 L384.8,272.6 L384.9,274.1 L385.0,275.4 L385.2,276.7 L385.3,277.9 L385.4,278.9 L385.6,279.9 L385.8,280.8 L386.0,281.7 L386.2,282.2 L386.4,282.3 L386.6,281.8 L386.9,281.0 L387.1,280.1 L387.2,279.1 L387.4,278.1 L387.5,276.9 L387.6,275.7 L387.7,274.3 L387.9,272.9 L388.0,271.3 L388.1,269.5 L388.3,267.6 L388.4,265.7 L388.5,263.6 L388.7,261.6 L388.8,259.6 L389.0,257.8 L389.1,256.0 L389.3,254.4 L389.4,253.0 L389.6,251.6 L389.7,250.4 L389.9,249.2 L390.1,248.1 L390.3,247.0 L390.5,245.9 L390.8,244.9 L391.1,243.9 L391.4,242.9 L391.6,241.9 L391.8,240.8 L392.0,239.7 L392.1,238.6 L392.2,237.6 L392.4,236.6 L392.6,235.7 L392.9,234.9 L393.2,234.1 L393.6,233.4 L393.9,232.8 L394.2,232.1 L394.6,231.5 L394.9,230.8 L395.2,230.0 L395.4,229.1 L395.7,228.2 L395.9,227.2 L396.2,226.2 L396.4,225.2 L396.5,224.2 L396.7,223.2 L396.9,222.2 L397.1,221.2 L397.4,220.4 L397.7,219.6 L398.1,218.8 L398.5,218.2 L398.9,217.7 L399.4,217.3 L400.0,217.0 L400.5,217.1 L401.0,217.5 L401.6,218.0 L402.0,218.7 L402.5,219.3 L402.9,220.1 L403.3,220.9 L403.6,221.8 L403.9,222.7 L404.2,223.7 L404.5,224.8 L404.8,225.9 L405.1,227.0 L405.3,228.2 L405.6,229.3 L405.8,230.4 L406.0,231.6 L406.2,232.7 L406.5,233.8 L406.7,234.8 L406.9,235.9 L407.2,236.9 L407.4,237.9 L407.7,238.9 L408.0,239.7 L408.3,240.6 L408.6,241.3 L408.9,241.7 L409.2,241.5 L409.6,241.0 L409.9,240.2 L410.2,239.3 L410.4,238.3 L410.6,237.2 L410.8,236.1 L410.9,235.0 L411.1,233.8 L411.4,232.7 L411.6,231.5 L411.8,230.3 L412.0,229.1 L412.3,227.9 L412.5,226.8 L412.8,225.7 L413.1,224.6 L413.4,223.5 L413.7,222.5 L414.1,221.6 L414.4,220.7 L414.8,219.8 L415.3,219.0 L415.8,218.3 L416.3,217.7 L416.8,217.2 L417.4,216.8 L418.1,216.4 L418.7,216.1 L419.4,215.9 L420.1,215.7 L420.8,215.6 L421.5,215.6 L422.3,215.6 L423.1,215.6 L423.9,215.7 L424.7,215.8 L425.6,216.0 L426.5,216.2 L427.4,216.4 L428.3,216.7 L429.2,216.9 L430.1,217.2 L431.0,217.4 L432.0,217.8 L433.1,218.1 L434.2,218.6 L435.3,219.1 L436.5,219.7 L437.7,220.3 L438.9,220.8 L440.0,221.3 L441.1,221.7 L442.1,222.1 L443.2,222.5 L444.2,222.8 L445.3,223.2 L446.4,223.5 L447.5,223.9 L448.6,224.2 L449.7,224.6 L450.9,225.0 L451.9,225.4 L453.0,225.8 L454.0,226.2 L455.0,226.6 L456.0,227.1 L457.0,227.5 L458.0,228.0 L459.1,228.5 L460.2,229.0 L461.4,229.5 L462.6,230.1 L463.7,230.6 L464.8,231.2 L465.8,231.7 L466.7,232.3 L467.6,232.8 L468.5,233.4 L469.4,234.0 L470.3,234.6 L471.2,235.2 L472.2,235.9 L473.1,236.5 L474.0,237.1 L474.9,237.7 L475.6,238.2 L476.3,238.7 L477.0,239.2 L477.7,239.7 L478.3,240.3 L478.9,240.9 L479.6,241.5 L480.1,242.2 L480.7,243.0 L480.7,288.9 L294.7,288.9 Z" fill="#f0f2f4" stroke="none"/>
<path d="M294.7,207.8 L295.8,207.9 L296.8,207.9 L297.8,208.0 L298.9,208.0 L299.8,208.1 L300.8,208.1 L301.7,208.2 L302.6,208.3 L303.5,208.3 L304.5,208.3 L305.6,208.3 L306.9,208.3 L308.2,208.3 L309.5,208.2 L310.8,208.2 L312.0,208.2 L313.1,208.2 L314.3,208.2 L315.4,208.2 L316.5,208.3 L317.5,208.4 L318.5,208.4 L319.4,208.5 L320.4,208.5 L321.2,208.5 L321.8,208.2 L322.3,207.7 L322.7,206.9 L323.1,206.4 L323.5,206.5 L323.8,207.2 L324.1,208.1 L324.5,209.0 L324.9,209.8 L325.4,210.5 L326.0,211.1 L326.6,211.7 L327.3,212.2 L327.9,212.8 L328.5,213.3 L329.2,213.6 L329.8,213.5 L330.3,213.2 L330.9,212.6 L331.5,212.0 L332.1,211.4 L332.7,210.8 L333.4,210.3 L334.0,209.8 L334.7,209.4 L335.4,209.1 L336.1,208.9 L336.9,208.7 L337.7,208.6 L338.6,208.5 L339.5,208.4 L340.4,208.3 L341.4,208.3 L342.5,208.3 L343.7,208.3 L344.9,208.3 L346.1,208.3 L347.3,208.4 L348.6,208.4 L349.9,208.5 L351.2,208.5 L352.5,208.6 L353.8,208.6 L355.1,208.7 L356.4,208.8 L357.6,208.9 L358.7,209.0 L359.9,209.1 L361.0,209.3 L362.1,209.4 L363.2,209.6 L364.3,209.9 L365.5,210.1 L366.6,210.4 L367.7,210.7 L368.7,210.9 L369.6,211.1 L370.4,211.4 L371.2,211.6 L372.0,211.8 L372.8,212.1 L373.5,212.5 L374.3,212.9 L375.0,213.3 L375.6,213.9 L376.2,214.6 L376.8,215.3 L377.3,216.2 L377.8,217.0 L378.2,217.9 L378.6,218.7 L379.0,219.6 L379.3,220.5 L379.7,221.5 L379.9,222.6 L380.2,223.8 L380.5,225.2 L380.7,226.7 L380.9,228.2 L381.2,229.7 L381.4,231.3 L381.5,232.8 L381.7,234.3 L381.9,235.8 L382.0,237.3 L382.2,238.7 L382.3,240.2 L382.4,241.6 L382.6,242.9 L382.7,244.2 L382.9,245.4 L383.0,246.7 L383.1,247.9 L383.3,249.3 L383.4,250.7 L383.5,252.3 L383.7,254.1 L383.8,256.1 L383.9,258.2 L384.0,260.4 L384.2,262.6 L384.3,264.8 L384.4,267.0 L384.5,269.0 L384.7,270.9 L384.8,272.6 L384.9,274.1 L385.0,275.4 L385.2,276.7 L385.3,277.9 L385.4,278.9 L385.6,279.9 L385.8,280.8 L386.0,281.7 L386.2,282.2 L386.4,282.3 L386.6,281.8 L386.9,281.0 L387.1,280.1 L387.2,279.1 L387.4,278.1 L387.5,276.9 L387.6,275.7 L387.7,274.3 L387.9,272.9 L388.0,271.3 L388.1,269.5 L388.3,267.6 L388.4,265.7 L388.5,263.6 L388.7,261.6 L388.8,259.6 L389.0,257.8 L389.1,256.0 L389.3,254.4 L389.4,253.0 L389.6,251.6 L389.7,250.4 L389.9,249.2 L390.1,248.1 L390.3,247.0 L390.5,245.9 L390.8,244.9 L391.1,243.9 L391.4,242.9 L391.6,241.9 L391.8,240.8 L392.0,239.7 L392.1,238.6 L392.2,237.6 L392.4,236.6 L392.6,235.7 L392.9,234.9 L393.2,234.1 L393.6,233.4 L393.9,232.8 L394.2,232.1 L394.6,231.5 L394.9,230.8 L395.2,230.0 L395.4,229.1 L395.7,228.2 L395.9,227.2 L396.2,226.2 L396.4,225.2 L396.5,224.2 L396.7,223.2 L396.9,222.2 L397.1,221.2 L397.4,220.4 L397.7,219.6 L398.1,218.8 L398.5,218.2 L398.9,217.7 L399.4,217.3 L400.0,217.0 L400.5,217.1 L401.0,217.5 L401.6,218.0 L402.0,218.7 L402.5,219.3 L402.9,220.1 L403.3,220.9 L403.6,221.8 L403.9,222.7 L404.2,223.7 L404.5,224.8 L404.8,225.9 L405.1,227.0 L405.3,228.2 L405.6,229.3 L405.8,230.4 L406.0,231.6 L406.2,232.7 L406.5,233.8 L406.7,234.8 L406.9,235.9 L407.2,236.9 L407.4,237.9 L407.7,238.9 L408.0,239.7 L408.3,240.6 L408.6,241.3 L408.9,241.7 L409.2,241.5 L409.6,241.0 L409.9,240.2 L410.2,239.3 L410.4,238.3 L410.6,237.2 L410.8,236.1 L410.9,235.0 L411.1,233.8 L411.4,232.7 L411.6,231.5 L411.8,230.3 L412.0,229.1 L412.3,227.9 L412.5,226.8 L412.8,225.7 L413.1,224.6 L413.4,223.5 L413.7,222.5 L414.1,221.6 L414.4,220.7 L414.8,219.8 L415.3,219.0 L415.8,218.3 L416.3,217.7 L416.8,217.2 L417.4,216.8 L418.1,216.4 L418.7,216.1 L419.4,215.9 L420.1,215.7 L420.8,215.6 L421.5,215.6 L422.3,215.6 L423.1,215.6 L423.9,215.7 L424.7,215.8 L425.6,216.0 L426.5,216.2 L427.4,216.4 L428.3,216.7 L429.2,216.9 L430.1,217.2 L431.0,217.4 L432.0,217.8 L433.1,218.1 L434.2,218.6 L435.3,219.1 L436.5,219.7 L437.7,220.3 L438.9,220.8 L440.0,221.3 L441.1,221.7 L442.1,222.1 L443.2,222.5 L444.2,222.8 L445.3,223.2 L446.4,223.5 L447.5,223.9 L448.6,224.2 L449.7,224.6 L450.9,225.0 L451.9,225.4 L453.0,225.8 L454.0,226.2 L455.0,226.6 L456.0,227.1 L457.0,227.5 L458.0,228.0 L459.1,228.5 L460.2,229.0 L461.4,229.5 L462.6,230.1 L463.7,230.6 L464.8,231.2 L465.8,231.7 L466.7,232.3 L467.6,232.8 L468.5,233.4 L469.4,234.0 L470.3,234.6 L471.2,235.2 L472.2,235.9 L473.1,236.5 L474.0,237.1 L474.9,237.7 L475.6,238.2 L476.3,238.7 L477.0,239.2 L477.7,239.7 L478.3,240.3 L478.9,240.9 L479.6,241.5 L480.1,242.2 L480.7,243.0" fill="none" stroke="#0c0c0c" stroke-width="2.2"/>
<path d="M295.2,281.5 L296.5,281.1 L297.7,280.6 L299.0,280.2 L300.3,279.7 L301.6,279.2 L302.8,278.8 L304.1,278.3 L305.4,277.9 L306.7,277.4 L308.1,276.9 L309.5,276.5 L310.8,276.0 L312.1,275.6 L313.4,275.2 L314.6,274.8 L315.6,274.4 L316.6,274.0 L317.5,273.7 L318.4,273.4 L319.3,273.1 L320.1,272.8 L320.8,272.5 L321.6,272.2 L322.2,271.9 L322.9,271.6 L323.5,271.2 L324.0,270.7 L324.5,270.2 L325.0,269.8 L325.5,269.5 L325.9,269.3 L326.5,269.2 L327.0,269.3 L327.6,269.5 L328.2,269.7 L328.8,269.9 L329.4,270.1 L330.0,270.2 L330.5,270.3 L331.1,270.3 L331.7,270.2 L332.3,270.1 L332.9,269.9 L333.6,269.5 L334.3,269.2 L335.1,268.7 L336.0,268.3 L337.0,267.8 L338.1,267.4 L339.4,266.9 L340.7,266.3 L342.0,265.8 L343.3,265.3 L344.5,264.7 L345.6,264.2 L346.6,263.7 L347.6,263.2 L348.6,262.7 L349.6,262.2 L350.6,261.7 L351.7,261.2 L352.8,260.6 L353.9,260.0 L355.1,259.4 L356.3,258.8 L357.5,258.2 L358.6,257.5 L359.7,256.9 L360.8,256.2 L361.8,255.6 L362.9,254.9 L363.9,254.2 L364.9,253.5 L365.9,252.8 L366.8,252.1 L367.8,251.4 L368.7,250.7 L369.7,250.0 L370.6,249.3 L371.5,248.5 L372.3,247.8 L373.1,247.2 L373.7,246.5 L374.4,245.8 L375.0,245.2 L375.5,244.5 L376.1,243.9 L376.7,243.2 L377.2,242.5 L377.7,241.8 L378.2,241.1 L378.7,240.4 L379.3,239.7 L379.8,239.0 L380.2,238.3 L380.7,237.6 L381.2,236.9 L381.7,236.1 L382.1,235.5 L382.6,235.0 L383.0,234.8 L383.5,234.9 L383.9,235.1 L384.2,235.5 L384.4,236.1 L384.7,236.9 L384.9,237.8 L385.1,238.8 L385.2,239.9 L385.4,241.2 L385.6,242.6 L385.8,244.0 L385.9,245.5 L386.1,247.0 L386.2,248.5 L386.4,249.9 L386.5,251.3 L386.6,252.6 L386.7,254.0 L386.9,255.3 L387.0,256.6 L387.1,257.8 L387.3,259.0 L387.5,260.2 L387.6,261.3 L387.8,262.3 L388.0,262.9 L388.3,263.2 L388.7,263.0 L389.2,262.5 L389.7,261.9 L390.2,261.3 L390.7,260.9 L391.3,260.5 L391.8,260.3 L392.4,260.1 L393.0,260.0 L393.6,259.9 L394.2,259.8 L394.8,259.6 L395.3,259.4 L395.9,259.1 L396.4,258.7 L396.9,258.1 L397.4,257.5 L397.8,256.8 L398.2,256.1 L398.6,255.5 L398.9,254.8 L399.3,254.0 L399.8,253.3 L400.3,252.5 L401.0,251.6 L401.7,250.7 L402.4,249.9 L403.1,249.0 L403.7,248.3 L404.2,247.7 L404.6,247.1 L405.0,246.6 L405.4,246.2 L405.9,245.9 L406.3,245.6 L406.7,245.6 L407.2,245.9 L407.6,246.3 L408.0,246.8 L408.4,247.4 L408.8,248.0 L409.1,248.6 L409.5,249.3 L409.8,250.0 L410.2,250.7 L410.5,251.4 L410.9,252.1 L411.2,252.7 L411.6,253.3 L412.0,253.8 L412.4,254.0 L412.9,253.9 L413.4,253.6 L414.0,253.2 L414.5,252.8 L415.2,252.2 L415.8,251.6 L416.5,250.9 L417.2,250.3 L417.9,249.7 L418.6,249.1 L419.3,248.5 L420.0,247.8 L420.7,247.2 L421.5,246.6 L422.1,246.0 L422.8,245.4 L423.6,244.7 L424.3,244.1 L425.1,243.4 L426.0,242.6 L427.0,241.8 L428.1,241.0 L429.2,240.2 L430.3,239.4 L431.4,238.6 L432.5,237.9 L433.5,237.2 L434.6,236.5 L435.7,235.9 L436.7,235.3 L437.8,234.7 L438.8,234.2 L439.9,233.7 L440.9,233.1 L441.9,232.6 L442.8,232.2 L443.8,231.7 L444.7,231.2 L445.7,230.7 L446.7,230.3 L447.7,229.8 L448.8,229.3 L449.8,228.8 L450.8,228.3 L451.8,227.8 L452.8,227.3 L453.7,226.8 L454.6,226.3 L455.5,225.7 L456.4,225.2 L457.3,224.6 L458.3,224.0 L459.3,223.4 L460.4,222.8 L461.5,222.1 L462.5,221.4 L463.6,220.8 L464.5,220.1 L465.4,219.5 L466.2,218.9 L466.9,218.3 L467.6,217.7 L468.3,217.1 L469.1,216.6 L469.8,216.0 L470.4,215.4 L471.1,214.8 L471.8,214.2 L472.5,213.6 L473.2,213.0 L473.8,212.4 L474.5,211.8 L475.2,211.2 L475.9,210.6 L476.6,210.0 L477.4,209.4 L478.2,208.7 L479.0,208.1 L479.8,207.5 L480.7,206.8" fill="none" stroke="#e8101c" stroke-width="2.4"/>
</g>
<path d="M482.8,198.2 L293.8,198.2 L293.8,288.9 L482.8,288.9" fill="none" stroke="#1a1a1a" stroke-width="1.3"/>
<path d="M482.8,197.6 L482.8,289.5" fill="none" stroke="#e8101c" stroke-width="1.4"/>
<path d="M295.2,288.9L295.2,285.4 M295.2,198.2L295.2,201.7 M326.1,288.9L326.1,285.4 M326.1,198.2L326.1,201.7 M357.0,288.9L357.0,285.4 M357.0,198.2L357.0,201.7 M387.9,288.9L387.9,285.4 M387.9,198.2L387.9,201.7 M418.8,288.9L418.8,285.4 M418.8,198.2L418.8,201.7 M449.7,288.9L449.7,285.4 M449.7,198.2L449.7,201.7 M480.6,288.9L480.6,285.4 M480.6,198.2L480.6,201.7 M293.8,207.6L298.8,207.6 M293.8,213.0L296.3,213.0 M293.8,219.0L296.3,219.0 M293.8,225.9L296.3,225.9 M293.8,233.8L296.3,233.8 M293.8,243.1L296.3,243.1 M293.8,254.6L296.3,254.6 M293.8,269.3L296.3,269.3" stroke="#1a1a1a" stroke-width="1.0" fill="none"/>
<path d="M482.8,284.0L476.8,284.0 M482.8,263.0L476.8,263.0 M482.8,242.0L476.8,242.0 M482.8,221.0L476.8,221.0 M482.8,200.0L476.8,200.0" stroke="#e8101c" stroke-width="1.1" fill="none"/>
<text x="295.5" y="301.2" font-size="10.1" text-anchor="middle" fill="#111" stroke="#111" stroke-width="0.5" font-weight="normal" >0</text>
<text x="326.4" y="301.2" font-size="10.1" text-anchor="middle" fill="#111" stroke="#111" stroke-width="0.5" font-weight="normal" >5</text>
<text x="357.3" y="301.2" font-size="10.1" text-anchor="middle" fill="#111" stroke="#111" stroke-width="0.5" font-weight="normal" >10</text>
<text x="388.2" y="301.2" font-size="10.1" text-anchor="middle" fill="#111" stroke="#111" stroke-width="0.5" font-weight="normal" >15</text>
<text x="419.09999999999997" y="301.2" font-size="10.1" text-anchor="middle" fill="#111" stroke="#111" stroke-width="0.5" font-weight="normal" >20</text>
<text x="450.0" y="301.2" font-size="10.1" text-anchor="middle" fill="#111" stroke="#111" stroke-width="0.5" font-weight="normal" >25</text>
<text x="480.9" y="301.2" font-size="10.1" text-anchor="middle" fill="#111" stroke="#111" stroke-width="0.5" font-weight="normal" >30</text>
<text x="288.0" y="211.0" font-size="9.4" text-anchor="end" fill="#111" stroke="#111" stroke-width="0.5" font-weight="normal" >1</text>
<text x="290.2" y="228.07843127831768" font-size="6.5" text-anchor="middle" fill="#111" stroke="#111" stroke-width="0.5" font-weight="bold" >7</text>
<text x="290.2" y="235.97815245473004" font-size="6.5" text-anchor="middle" fill="#111" stroke="#111" stroke-width="0.5" font-weight="bold" >6</text>
<text x="290.2" y="245.32153948834977" font-size="6.5" text-anchor="middle" fill="#111" stroke="#111" stroke-width="0.5" font-weight="bold" >5</text>
<text x="290.2" y="256.75692102330044" font-size="6.5" text-anchor="middle" fill="#111" stroke="#111" stroke-width="0.5" font-weight="bold" >4</text>
<text x="290.2" y="271.4996919430798" font-size="6.5" text-anchor="middle" fill="#111" stroke="#111" stroke-width="0.5" font-weight="bold" >3</text>
<text x="492.9" y="287.6" font-size="9.8" text-anchor="middle" fill="#de1822" stroke="#de1822" stroke-width="0.5" font-weight="normal" >0</text>
<text x="492.9" y="266.6" font-size="9.8" text-anchor="middle" fill="#de1822" stroke="#de1822" stroke-width="0.5" font-weight="normal" >1</text>
<text x="492.9" y="245.6" font-size="9.8" text-anchor="middle" fill="#de1822" stroke="#de1822" stroke-width="0.5" font-weight="normal" >2</text>
<text x="492.9" y="224.6" font-size="9.8" text-anchor="middle" fill="#de1822" stroke="#de1822" stroke-width="0.5" font-weight="normal" >3</text>
<text x="492.9" y="203.6" font-size="9.8" text-anchor="middle" fill="#de1822" stroke="#de1822" stroke-width="0.5" font-weight="normal" >4</text>
<text x="339.6" y="313.0" font-size="9.65" text-anchor="start" fill="#111" stroke="#111" stroke-width="0.5" font-weight="normal" >Frequency <tspan font-family="'Liberation Serif',serif" font-size="10.6" letter-spacing="0.55">ω/2π</tspan> (THz)</text>
<text transform="translate(265.2,299.6) rotate(-90)" font-size="9.85" fill="#111" stroke="#111" stroke-width="0.5">Transmission amplitude</text>
<text transform="translate(514.4,288.2) rotate(-90)" font-size="10" fill="#de1822" stroke="#de1822" stroke-width="0.45">Transmission phase</text>
</svg></body></html>
